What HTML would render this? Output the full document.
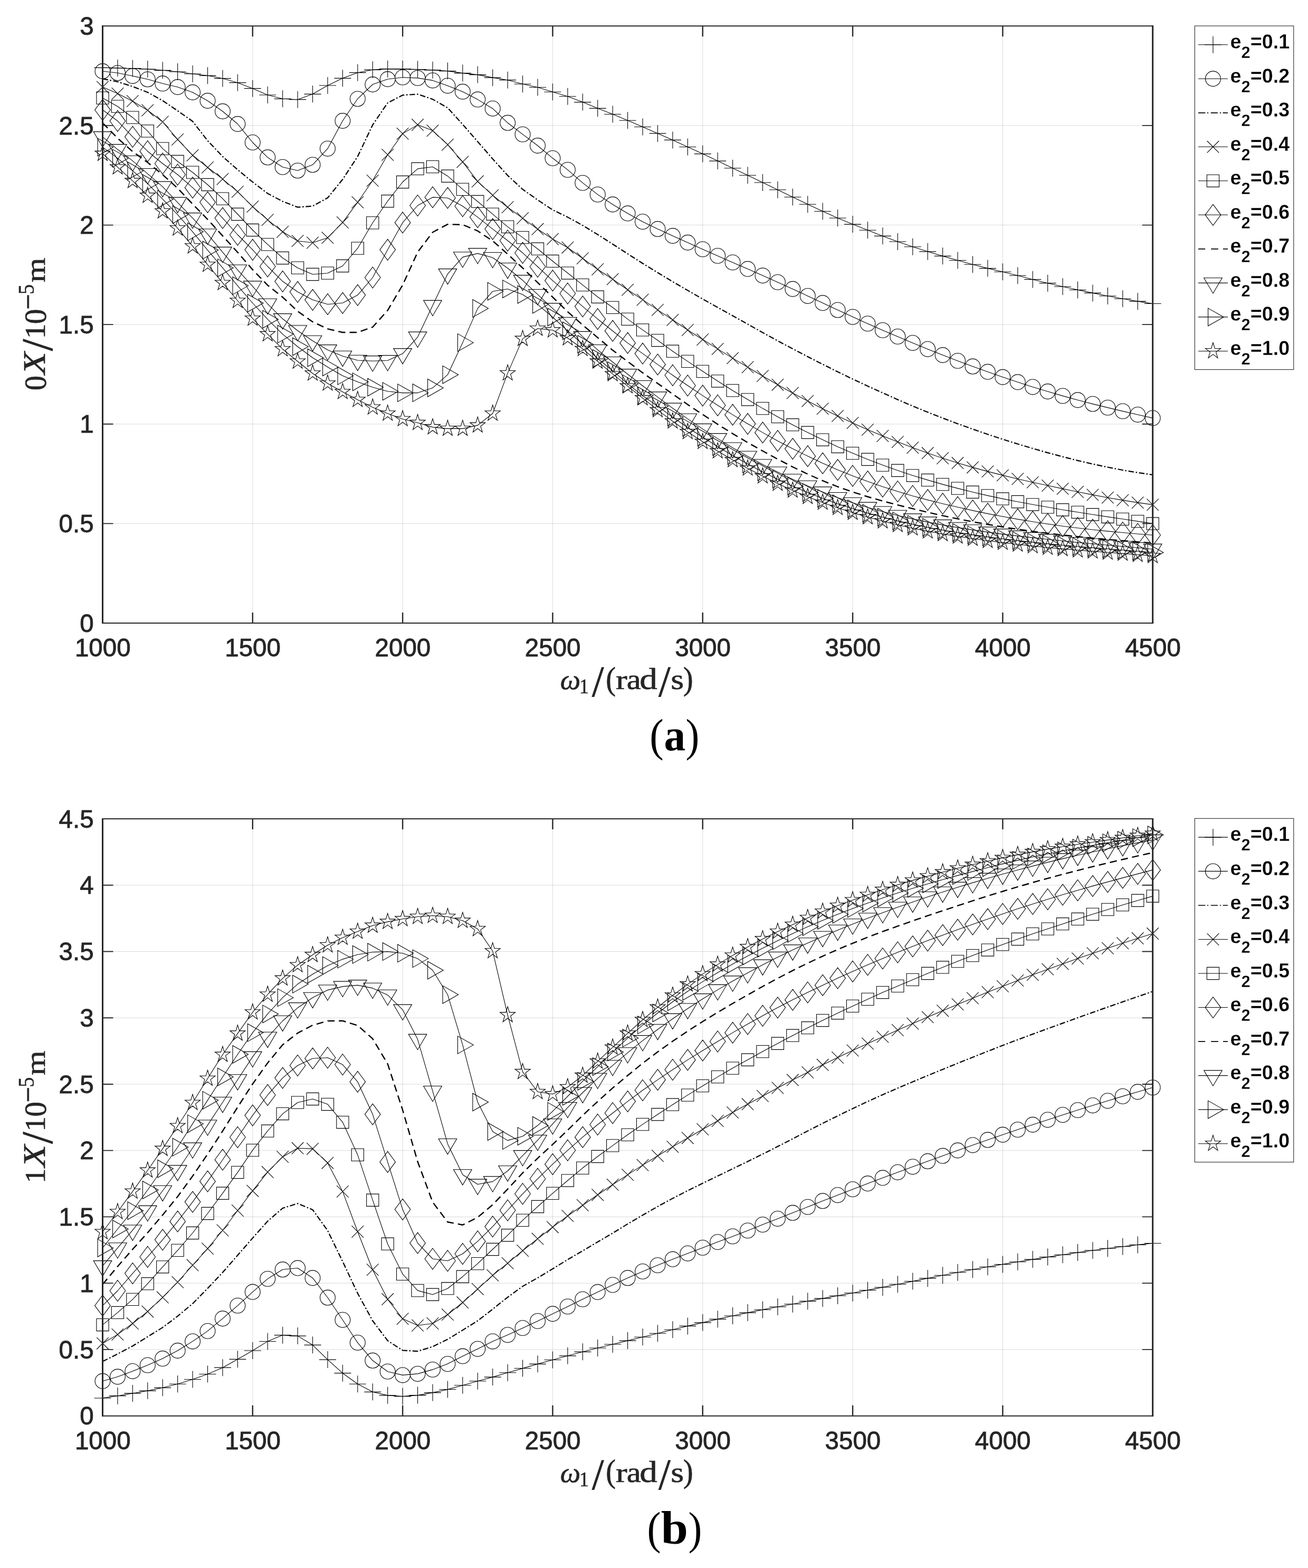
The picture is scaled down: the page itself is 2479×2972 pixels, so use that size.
<!DOCTYPE html>
<html lang="en"><head><meta charset="utf-8"><title>Figure</title>
<style>
html,body{margin:0;padding:0;background:#fff}
svg{display:block}
text{fill:#262626}
.tk text{font-family:"Liberation Sans",sans-serif;font-size:47.5px;stroke:#262626;stroke-width:.9px}
.lg{font-family:"Liberation Sans",sans-serif;font-weight:bold;font-size:39px;fill:#000;stroke:#fff;stroke-width:.3px}
.lsub{font-size:32px}
.gs,.gi,.gb{font-family:"Liberation Serif",serif;font-size:100px}
.gi{font-style:italic}
.gb{font-weight:bold}
.xl text,.yl text{fill:#262626;stroke:#262626;stroke-width:1.2px}
.cap text{fill:#000}
</style></head>
<body>
<svg xmlns="http://www.w3.org/2000/svg" width="2479" height="2972" viewBox="0 0 2479 2972">
<rect width="2479" height="2972" fill="#fff"/>
<g id="plot1">
<path d="M478.81 49.3V1181.0M763.13 49.3V1181.0M1047.44 49.3V1181.0M1331.76 49.3V1181.0M1616.07 49.3V1181.0M1900.39 49.3V1181.0" stroke="#262626" stroke-opacity=".17" stroke-width="1" fill="none"/>
<path d="M194.5 992.38H2184.7M194.5 803.77H2184.7M194.5 615.15H2184.7M194.5 426.53H2184.7M194.5 237.92H2184.7" stroke="#262626" stroke-opacity=".17" stroke-width="1" fill="none"/>
<path d="M194.5 128.3L222.9 129.0L251.4 129.7L279.8 131.0L308.2 133.3L336.7 136.0L365.1 140.0L393.5 143.3L422.0 148.7L450.4 156.7L478.8 167.7L507.2 180.0L535.7 187.3L564.1 188.7L592.5 178.3L621.0 162.0L649.4 148.3L677.8 137.7L706.3 132.3L734.7 130.7L763.1 130.9L791.6 131.6L820.0 132.8L848.4 134.6L876.9 138.6L905.3 141.6L933.7 147.1L962.1 151.7L990.6 159.2L1019.0 165.5L1047.4 174.3L1075.9 182.8L1104.3 193.6L1132.7 205.3L1161.2 216.4L1189.6 228.2L1218.0 240.5L1246.5 252.9L1274.9 265.4L1303.3 278.4L1331.8 291.6L1360.2 305.1L1388.6 318.7L1417.1 332.3L1445.5 346.0L1473.9 359.8L1502.3 373.5L1530.8 387.2L1559.2 400.5L1587.6 413.3L1616.1 425.1L1644.5 436.2L1672.9 447.4L1701.4 457.9L1729.8 467.7L1758.2 476.8L1786.7 485.4L1815.1 493.5L1843.5 501.3L1872.0 508.6L1900.4 515.3L1928.8 522.3L1957.2 529.7L1985.7 536.7L2014.1 543.2L2042.5 549.4L2071.0 555.4L2099.4 561.0L2127.8 566.3L2156.3 571.1L2184.7 575.6" stroke="#000" stroke-width="1.1" fill="none" stroke-linejoin="round"/>
<path d="M178.5 128.33H210.5M194.5 112.33000000000001V144.33M206.93 129.0H238.93M222.93 113.0V145.0M235.36 129.67H267.36M251.36 113.66999999999999V145.67M263.79 131.0H295.79M279.79 115.0V147.0M292.23 133.33H324.23M308.23 117.33000000000001V149.33M320.66 136.0H352.66M336.66 120.0V152.0M349.09 140.0H381.09M365.09 124.0V156.0M377.52 143.33H409.52M393.52 127.33000000000001V159.33M405.95 148.67H437.95M421.95 132.67V164.67M434.38 156.67H466.38M450.38 140.67V172.67M462.81 167.67H494.81M478.81 151.67V183.67M491.25 180.0H523.25M507.25 164.0V196.0M519.68 187.33H551.68M535.68 171.33V203.33M548.11 188.67H580.11M564.11 172.67V204.67M576.54 178.33H608.54M592.54 162.33V194.33M604.97 162.0H636.97M620.97 146.0V178.0M633.4 148.33H665.4M649.4 132.33V164.33M661.83 137.67H693.83M677.83 121.66999999999999V153.67M690.27 132.33H722.27M706.27 116.33000000000001V148.33M718.7 130.67H750.7M734.7 114.66999999999999V146.67M747.13 130.87H779.13M763.13 114.87V146.87M775.56 131.58H807.56M791.56 115.58000000000001V147.58M803.99 132.83H835.99M819.99 116.83000000000001V148.83M832.42 134.59H864.42M848.42 118.59V150.59M860.85 138.61H892.85M876.85 122.61000000000001V154.61M889.29 141.62H921.29M905.29 125.62V157.62M917.72 147.15H949.72M933.72 131.15V163.15M946.15 151.67H978.15M962.15 135.67V167.67M974.58 159.2H1006.58M990.58 143.2V175.2M1003.01 165.48H1035.01M1019.01 149.48V181.48M1031.44 174.27H1063.44M1047.44 158.27V190.27M1059.87 182.8H1091.87M1075.87 166.8V198.8M1088.31 193.59H1120.31M1104.31 177.59V209.59M1116.74 205.33H1148.74M1132.74 189.33V221.33M1145.17 216.43H1177.17M1161.17 200.43V232.43M1173.6 228.2H1205.6M1189.6 212.2V244.2M1202.03 240.49H1234.03M1218.03 224.49V256.49M1230.46 252.9H1262.46M1246.46 236.9V268.9M1258.89 265.38H1290.89M1274.89 249.38V281.38M1287.33 278.43H1319.33M1303.33 262.43V294.43M1315.76 291.59H1347.76M1331.76 275.59V307.59M1344.19 305.12H1376.19M1360.19 289.12V321.12M1372.62 318.73H1404.62M1388.62 302.73V334.73M1401.05 332.27H1433.05M1417.05 316.27V348.27M1429.48 345.97H1461.48M1445.48 329.97V361.97M1457.91 359.77H1489.91M1473.91 343.77V375.77M1486.35 373.53H1518.35M1502.35 357.53V389.53M1514.78 387.23H1546.78M1530.78 371.23V403.23M1543.21 400.52H1575.21M1559.21 384.52V416.52M1571.64 413.32H1603.64M1587.64 397.32V429.32M1600.07 425.08H1632.07M1616.07 409.08V441.08M1628.5 436.21H1660.5M1644.5 420.21V452.21M1656.93 447.36H1688.93M1672.93 431.36V463.36M1685.37 457.93H1717.37M1701.37 441.93V473.93M1713.8 467.75H1745.8M1729.8 451.75V483.75M1742.23 476.83H1774.23M1758.23 460.83V492.83M1770.66 485.36H1802.66M1786.66 469.36V501.36M1799.09 493.54H1831.09M1815.09 477.54V509.54M1827.52 501.32H1859.52M1843.52 485.32V517.3199999999999M1855.95 508.59H1887.95M1871.95 492.59V524.5899999999999M1884.39 515.31H1916.39M1900.39 499.30999999999995V531.31M1912.82 522.27H1944.82M1928.82 506.27V538.27M1941.25 529.67H1973.25M1957.25 513.67V545.67M1969.68 536.66H2001.68M1985.68 520.66V552.66M1998.11 543.18H2030.11M2014.11 527.18V559.18M2026.54 549.44H2058.54M2042.54 533.44V565.44M2054.97 555.4H2086.97M2070.97 539.4V571.4M2083.41 561.02H2115.41M2099.41 545.02V577.02M2111.84 566.27H2143.84M2127.84 550.27V582.27M2140.27 571.13H2172.27M2156.27 555.13V587.13M2168.7 575.56H2200.7M2184.7 559.56V591.56" stroke="#000" stroke-width="1.1" fill="none" stroke-linejoin="miter"/>
<path d="M194.5 135.0L222.9 138.3L251.4 144.0L279.8 150.3L308.2 158.3L336.7 165.0L365.1 175.0L393.5 191.0L422.0 211.0L450.4 235.0L478.8 270.0L507.2 298.3L535.7 316.7L564.1 323.3L592.5 312.3L621.0 281.7L649.4 229.0L677.8 187.3L706.3 160.0L734.7 150.0L763.1 146.7L791.6 147.9L820.0 152.4L848.4 162.5L876.9 173.8L905.3 188.6L933.7 205.7L962.1 232.8L990.6 254.6L1019.0 276.0L1047.4 299.8L1075.9 321.9L1104.3 346.6L1132.7 368.6L1161.2 387.5L1189.6 404.5L1218.0 420.2L1246.5 434.1L1274.9 447.0L1303.3 459.7L1331.8 472.4L1360.2 484.9L1388.6 497.4L1417.1 509.8L1445.5 522.2L1473.9 534.9L1502.3 547.7L1530.8 560.9L1559.2 574.3L1587.6 587.6L1616.1 600.6L1644.5 613.4L1672.9 625.9L1701.4 637.9L1729.8 649.9L1758.2 661.7L1786.7 673.0L1815.1 683.9L1843.5 694.5L1872.0 704.8L1900.4 714.7L1928.8 724.3L1957.2 733.5L1985.7 742.0L2014.1 750.4L2042.5 758.2L2071.0 765.6L2099.4 772.6L2127.8 779.4L2156.3 786.0L2184.7 792.4" stroke="#000" stroke-width="1.1" fill="none" stroke-linejoin="round"/>
<path d="M180.1 135.0a14.4 14.4 0 1 0 28.8 0a14.4 14.4 0 1 0 -28.8 0ZM208.53 138.33a14.4 14.4 0 1 0 28.8 0a14.4 14.4 0 1 0 -28.8 0ZM236.96 144.0a14.4 14.4 0 1 0 28.8 0a14.4 14.4 0 1 0 -28.8 0ZM265.39000000000004 150.33a14.4 14.4 0 1 0 28.8 0a14.4 14.4 0 1 0 -28.8 0ZM293.83000000000004 158.33a14.4 14.4 0 1 0 28.8 0a14.4 14.4 0 1 0 -28.8 0ZM322.26000000000005 165.0a14.4 14.4 0 1 0 28.8 0a14.4 14.4 0 1 0 -28.8 0ZM350.69 175.0a14.4 14.4 0 1 0 28.8 0a14.4 14.4 0 1 0 -28.8 0ZM379.12 191.0a14.4 14.4 0 1 0 28.8 0a14.4 14.4 0 1 0 -28.8 0ZM407.55 211.0a14.4 14.4 0 1 0 28.8 0a14.4 14.4 0 1 0 -28.8 0ZM435.98 235.0a14.4 14.4 0 1 0 28.8 0a14.4 14.4 0 1 0 -28.8 0ZM464.41 270.0a14.4 14.4 0 1 0 28.8 0a14.4 14.4 0 1 0 -28.8 0ZM492.85 298.33a14.4 14.4 0 1 0 28.8 0a14.4 14.4 0 1 0 -28.8 0ZM521.28 316.67a14.4 14.4 0 1 0 28.8 0a14.4 14.4 0 1 0 -28.8 0ZM549.71 323.33a14.4 14.4 0 1 0 28.8 0a14.4 14.4 0 1 0 -28.8 0ZM578.14 312.33a14.4 14.4 0 1 0 28.8 0a14.4 14.4 0 1 0 -28.8 0ZM606.57 281.67a14.4 14.4 0 1 0 28.8 0a14.4 14.4 0 1 0 -28.8 0ZM635.0 229.0a14.4 14.4 0 1 0 28.8 0a14.4 14.4 0 1 0 -28.8 0ZM663.4300000000001 187.33a14.4 14.4 0 1 0 28.8 0a14.4 14.4 0 1 0 -28.8 0ZM691.87 160.0a14.4 14.4 0 1 0 28.8 0a14.4 14.4 0 1 0 -28.8 0ZM720.3000000000001 150.0a14.4 14.4 0 1 0 28.8 0a14.4 14.4 0 1 0 -28.8 0ZM748.73 146.66a14.4 14.4 0 1 0 28.8 0a14.4 14.4 0 1 0 -28.8 0ZM777.16 147.9a14.4 14.4 0 1 0 28.8 0a14.4 14.4 0 1 0 -28.8 0ZM805.59 152.42a14.4 14.4 0 1 0 28.8 0a14.4 14.4 0 1 0 -28.8 0ZM834.02 162.47a14.4 14.4 0 1 0 28.8 0a14.4 14.4 0 1 0 -28.8 0ZM862.45 173.77a14.4 14.4 0 1 0 28.8 0a14.4 14.4 0 1 0 -28.8 0ZM890.89 188.58a14.4 14.4 0 1 0 28.8 0a14.4 14.4 0 1 0 -28.8 0ZM919.32 205.66a14.4 14.4 0 1 0 28.8 0a14.4 14.4 0 1 0 -28.8 0ZM947.75 232.79a14.4 14.4 0 1 0 28.8 0a14.4 14.4 0 1 0 -28.8 0ZM976.1800000000001 254.63a14.4 14.4 0 1 0 28.8 0a14.4 14.4 0 1 0 -28.8 0ZM1004.61 275.98a14.4 14.4 0 1 0 28.8 0a14.4 14.4 0 1 0 -28.8 0ZM1033.04 299.84a14.4 14.4 0 1 0 28.8 0a14.4 14.4 0 1 0 -28.8 0ZM1061.4699999999998 321.88a14.4 14.4 0 1 0 28.8 0a14.4 14.4 0 1 0 -28.8 0ZM1089.9099999999999 346.64a14.4 14.4 0 1 0 28.8 0a14.4 14.4 0 1 0 -28.8 0ZM1118.34 368.65a14.4 14.4 0 1 0 28.8 0a14.4 14.4 0 1 0 -28.8 0ZM1146.77 387.49a14.4 14.4 0 1 0 28.8 0a14.4 14.4 0 1 0 -28.8 0ZM1175.1999999999998 404.54a14.4 14.4 0 1 0 28.8 0a14.4 14.4 0 1 0 -28.8 0ZM1203.6299999999999 420.2a14.4 14.4 0 1 0 28.8 0a14.4 14.4 0 1 0 -28.8 0ZM1232.06 434.06a14.4 14.4 0 1 0 28.8 0a14.4 14.4 0 1 0 -28.8 0ZM1260.49 447.01a14.4 14.4 0 1 0 28.8 0a14.4 14.4 0 1 0 -28.8 0ZM1288.9299999999998 459.73a14.4 14.4 0 1 0 28.8 0a14.4 14.4 0 1 0 -28.8 0ZM1317.36 472.4a14.4 14.4 0 1 0 28.8 0a14.4 14.4 0 1 0 -28.8 0ZM1345.79 484.9a14.4 14.4 0 1 0 28.8 0a14.4 14.4 0 1 0 -28.8 0ZM1374.2199999999998 497.4a14.4 14.4 0 1 0 28.8 0a14.4 14.4 0 1 0 -28.8 0ZM1402.6499999999999 509.78a14.4 14.4 0 1 0 28.8 0a14.4 14.4 0 1 0 -28.8 0ZM1431.08 522.24a14.4 14.4 0 1 0 28.8 0a14.4 14.4 0 1 0 -28.8 0ZM1459.51 534.91a14.4 14.4 0 1 0 28.8 0a14.4 14.4 0 1 0 -28.8 0ZM1487.9499999999998 547.75a14.4 14.4 0 1 0 28.8 0a14.4 14.4 0 1 0 -28.8 0ZM1516.3799999999999 560.94a14.4 14.4 0 1 0 28.8 0a14.4 14.4 0 1 0 -28.8 0ZM1544.81 574.28a14.4 14.4 0 1 0 28.8 0a14.4 14.4 0 1 0 -28.8 0ZM1573.24 587.58a14.4 14.4 0 1 0 28.8 0a14.4 14.4 0 1 0 -28.8 0ZM1601.6699999999998 600.6a14.4 14.4 0 1 0 28.8 0a14.4 14.4 0 1 0 -28.8 0ZM1630.1 613.37a14.4 14.4 0 1 0 28.8 0a14.4 14.4 0 1 0 -28.8 0ZM1658.53 625.89a14.4 14.4 0 1 0 28.8 0a14.4 14.4 0 1 0 -28.8 0ZM1686.9699999999998 637.92a14.4 14.4 0 1 0 28.8 0a14.4 14.4 0 1 0 -28.8 0ZM1715.3999999999999 649.94a14.4 14.4 0 1 0 28.8 0a14.4 14.4 0 1 0 -28.8 0ZM1743.83 661.68a14.4 14.4 0 1 0 28.8 0a14.4 14.4 0 1 0 -28.8 0ZM1772.26 672.99a14.4 14.4 0 1 0 28.8 0a14.4 14.4 0 1 0 -28.8 0ZM1800.6899999999998 683.9a14.4 14.4 0 1 0 28.8 0a14.4 14.4 0 1 0 -28.8 0ZM1829.12 694.53a14.4 14.4 0 1 0 28.8 0a14.4 14.4 0 1 0 -28.8 0ZM1857.55 704.78a14.4 14.4 0 1 0 28.8 0a14.4 14.4 0 1 0 -28.8 0ZM1885.99 714.74a14.4 14.4 0 1 0 28.8 0a14.4 14.4 0 1 0 -28.8 0ZM1914.4199999999998 724.28a14.4 14.4 0 1 0 28.8 0a14.4 14.4 0 1 0 -28.8 0ZM1942.85 733.45a14.4 14.4 0 1 0 28.8 0a14.4 14.4 0 1 0 -28.8 0ZM1971.28 742.01a14.4 14.4 0 1 0 28.8 0a14.4 14.4 0 1 0 -28.8 0ZM1999.7099999999998 750.38a14.4 14.4 0 1 0 28.8 0a14.4 14.4 0 1 0 -28.8 0ZM2028.1399999999999 758.24a14.4 14.4 0 1 0 28.8 0a14.4 14.4 0 1 0 -28.8 0ZM2056.5699999999997 765.58a14.4 14.4 0 1 0 28.8 0a14.4 14.4 0 1 0 -28.8 0ZM2085.0099999999998 772.59a14.4 14.4 0 1 0 28.8 0a14.4 14.4 0 1 0 -28.8 0ZM2113.44 779.36a14.4 14.4 0 1 0 28.8 0a14.4 14.4 0 1 0 -28.8 0ZM2141.87 785.95a14.4 14.4 0 1 0 28.8 0a14.4 14.4 0 1 0 -28.8 0ZM2170.2999999999997 792.45a14.4 14.4 0 1 0 28.8 0a14.4 14.4 0 1 0 -28.8 0Z" stroke="#000" stroke-width="1.1" fill="none" stroke-linejoin="miter"/>
<path d="M194.5 149.3L222.9 155.0L251.4 164.0L279.8 175.0L308.2 190.7L336.7 210.0L365.1 230.0L393.5 266.7L422.0 296.7L450.4 321.7L478.8 345.0L507.2 366.7L535.7 381.7L564.1 392.7L592.5 390.7L621.0 375.0L649.4 340.0L677.8 296.7L706.3 236.7L734.7 195.0L763.1 180.3L791.6 178.5L820.0 188.1L848.4 204.4L876.9 235.8L905.3 268.4L933.7 301.1L962.1 332.5L990.6 358.9L1019.0 378.9L1047.4 397.8L1075.9 411.6L1104.3 427.2L1132.7 444.5L1161.2 462.7L1189.6 481.1L1218.0 499.2L1246.5 516.8L1274.9 533.9L1303.3 550.4L1331.8 566.8L1360.2 582.7L1388.6 598.5L1417.1 614.4L1445.5 630.4L1473.9 646.0L1502.3 661.1L1530.8 676.0L1559.2 690.5L1587.6 704.7L1616.1 718.5L1644.5 731.8L1672.9 744.7L1701.4 757.4L1729.8 769.7L1758.2 781.3L1786.7 792.5L1815.1 803.2L1843.5 813.4L1872.0 823.2L1900.4 832.6L1928.8 841.5L1957.2 850.0L1985.7 858.1L2014.1 865.7L2042.5 872.9L2071.0 879.5L2099.4 885.5L2127.8 891.0L2156.3 895.8L2184.7 900.0" stroke="#000" stroke-width="2.2" stroke-dasharray="10.5 3.6 2.6 3.6" fill="none" stroke-linejoin="round"/>
<path d="M194.5 165.0L222.9 177.3L251.4 191.7L279.8 209.0L308.2 231.0L336.7 264.3L365.1 294.3L393.5 317.3L422.0 339.3L450.4 363.3L478.8 391.7L507.2 416.7L535.7 439.3L564.1 456.7L592.5 460.0L621.0 450.7L649.4 421.7L677.8 383.3L706.3 342.3L734.7 293.3L763.1 253.4L791.6 236.6L820.0 247.6L848.4 274.2L876.9 306.9L905.3 343.8L933.7 370.2L962.1 392.8L990.6 413.6L1019.0 434.3L1047.4 453.1L1075.9 469.2L1104.3 489.7L1132.7 510.5L1161.2 529.2L1189.6 549.3L1218.0 568.1L1246.5 587.4L1274.9 606.3L1303.3 625.5L1331.8 643.5L1360.2 661.4L1388.6 678.9L1417.1 696.0L1445.5 712.7L1473.9 729.2L1502.3 744.9L1530.8 760.1L1559.2 774.7L1587.6 788.4L1616.1 801.7L1644.5 814.4L1672.9 826.3L1701.4 837.6L1729.8 848.5L1758.2 858.8L1786.7 868.5L1815.1 877.5L1843.5 885.9L1872.0 893.6L1900.4 900.9L1928.8 907.8L1957.2 914.2L1985.7 920.3L2014.1 926.4L2042.5 932.2L2071.0 937.9L2099.4 943.2L2127.8 948.1L2156.3 952.6L2184.7 956.6" stroke="#000" stroke-width="1.1" fill="none" stroke-linejoin="round"/>
<path d="M183.2 153.7L205.8 176.3M183.2 176.3L205.8 153.7M211.63 166.03L234.23000000000002 188.63000000000002M211.63 188.63000000000002L234.23000000000002 166.03M240.06 180.36999999999998L262.66 202.97M240.06 202.97L262.66 180.36999999999998M268.49 197.7L291.09000000000003 220.3M268.49 220.3L291.09000000000003 197.7M296.93 219.7L319.53000000000003 242.3M296.93 242.3L319.53000000000003 219.7M325.36 253.02999999999997L347.96000000000004 275.63M325.36 275.63L347.96000000000004 253.02999999999997M353.78999999999996 283.03L376.39 305.63M353.78999999999996 305.63L376.39 283.03M382.21999999999997 306.03L404.82 328.63M382.21999999999997 328.63L404.82 306.03M410.65 328.03L433.25 350.63M410.65 350.63L433.25 328.03M439.08 352.03L461.68 374.63M439.08 374.63L461.68 352.03M467.51 380.37L490.11 402.97M467.51 402.97L490.11 380.37M495.95 405.37L518.55 427.97M495.95 427.97L518.55 405.37M524.38 428.03L546.9799999999999 450.63M524.38 450.63L546.9799999999999 428.03M552.8100000000001 445.37L575.41 467.97M552.8100000000001 467.97L575.41 445.37M581.24 448.7L603.8399999999999 471.3M581.24 471.3L603.8399999999999 448.7M609.6700000000001 439.37L632.27 461.97M609.6700000000001 461.97L632.27 439.37M638.1 410.37L660.6999999999999 432.97M638.1 432.97L660.6999999999999 410.37M666.5300000000001 372.03L689.13 394.63M666.5300000000001 394.63L689.13 372.03M694.97 331.03L717.5699999999999 353.63M694.97 353.63L717.5699999999999 331.03M723.4000000000001 282.03L746.0 304.63M723.4000000000001 304.63L746.0 282.03M751.83 242.06L774.43 264.66M751.83 264.66L774.43 242.06M780.26 225.25L802.8599999999999 247.85000000000002M780.26 247.85000000000002L802.8599999999999 225.25M808.69 236.29999999999998L831.29 258.9M808.69 258.9L831.29 236.29999999999998M837.12 262.92L859.7199999999999 285.52000000000004M837.12 285.52000000000004L859.7199999999999 262.92M865.5500000000001 295.57L888.15 318.17M865.5500000000001 318.17L888.15 295.57M893.99 332.49L916.5899999999999 355.09000000000003M893.99 355.09000000000003L916.5899999999999 332.49M922.4200000000001 358.86L945.02 381.46000000000004M922.4200000000001 381.46000000000004L945.02 358.86M950.85 381.46L973.4499999999999 404.06M950.85 404.06L973.4499999999999 381.46M979.2800000000001 402.28L1001.88 424.88M979.2800000000001 424.88L1001.88 402.28M1007.71 423.0L1030.31 445.6M1007.71 445.6L1030.31 423.0M1036.14 441.84L1058.74 464.44M1036.14 464.44L1058.74 441.84M1064.57 457.90999999999997L1087.1699999999998 480.51M1064.57 480.51L1087.1699999999998 457.90999999999997M1093.01 478.38L1115.61 500.98M1093.01 500.98L1115.61 478.38M1121.44 499.2L1144.04 521.8M1121.44 521.8L1144.04 499.2M1149.8700000000001 517.87L1172.47 540.4699999999999M1149.8700000000001 540.4699999999999L1172.47 517.87M1178.3 537.96L1200.8999999999999 560.56M1178.3 560.56L1200.8999999999999 537.96M1206.73 556.83L1229.33 579.43M1206.73 579.43L1229.33 556.83M1235.16 576.0600000000001L1257.76 598.66M1235.16 598.66L1257.76 576.0600000000001M1263.5900000000001 595.0400000000001L1286.19 617.64M1263.5900000000001 617.64L1286.19 595.0400000000001M1292.03 614.1700000000001L1314.6299999999999 636.77M1292.03 636.77L1314.6299999999999 614.1700000000001M1320.46 632.1700000000001L1343.06 654.77M1320.46 654.77L1343.06 632.1700000000001M1348.89 650.1L1371.49 672.6999999999999M1348.89 672.6999999999999L1371.49 650.1M1377.32 667.61L1399.9199999999998 690.2099999999999M1377.32 690.2099999999999L1399.9199999999998 667.61M1405.75 684.7L1428.35 707.3M1405.75 707.3L1428.35 684.7M1434.18 701.38L1456.78 723.9799999999999M1434.18 723.9799999999999L1456.78 701.38M1462.6100000000001 717.9100000000001L1485.21 740.51M1462.6100000000001 740.51L1485.21 717.9100000000001M1491.05 733.62L1513.6499999999999 756.2199999999999M1491.05 756.2199999999999L1513.6499999999999 733.62M1519.48 748.7800000000001L1542.08 771.38M1519.48 771.38L1542.08 748.7800000000001M1547.91 763.38L1570.51 785.9799999999999M1547.91 785.9799999999999L1570.51 763.38M1576.3400000000001 777.13L1598.94 799.7299999999999M1576.3400000000001 799.7299999999999L1598.94 777.13M1604.77 790.38L1627.37 812.9799999999999M1604.77 812.9799999999999L1627.37 790.38M1633.2 803.0500000000001L1655.8 825.65M1633.2 825.65L1655.8 803.0500000000001M1661.63 814.97L1684.23 837.5699999999999M1661.63 837.5699999999999L1684.23 814.97M1690.07 826.32L1712.6699999999998 848.92M1690.07 848.92L1712.6699999999998 826.32M1718.5 837.2L1741.1 859.8M1718.5 859.8L1741.1 837.2M1746.93 847.5L1769.53 870.0999999999999M1746.93 870.0999999999999L1769.53 847.5M1775.3600000000001 857.21L1797.96 879.81M1775.3600000000001 879.81L1797.96 857.21M1803.79 866.24L1826.3899999999999 888.8399999999999M1803.79 888.8399999999999L1826.3899999999999 866.24M1832.22 874.6500000000001L1854.82 897.25M1832.22 897.25L1854.82 874.6500000000001M1860.65 882.34L1883.25 904.9399999999999M1860.65 904.9399999999999L1883.25 882.34M1889.0900000000001 889.62L1911.69 912.2199999999999M1889.0900000000001 912.2199999999999L1911.69 889.62M1917.52 896.45L1940.12 919.05M1917.52 919.05L1940.12 896.45M1945.95 902.88L1968.55 925.4799999999999M1945.95 925.4799999999999L1968.55 902.88M1974.38 909.0400000000001L1996.98 931.64M1974.38 931.64L1996.98 909.0400000000001M2002.81 915.1L2025.4099999999999 937.6999999999999M2002.81 937.6999999999999L2025.4099999999999 915.1M2031.24 920.9200000000001L2053.84 943.52M2031.24 943.52L2053.84 920.9200000000001M2059.6699999999996 926.5500000000001L2082.27 949.15M2059.6699999999996 949.15L2082.27 926.5500000000001M2088.1099999999997 931.86L2110.71 954.4599999999999M2088.1099999999997 954.4599999999999L2110.71 931.86M2116.54 936.8000000000001L2139.1400000000003 959.4M2116.54 959.4L2139.1400000000003 936.8000000000001M2144.97 941.3000000000001L2167.57 963.9M2144.97 963.9L2167.57 941.3000000000001M2173.3999999999996 945.3100000000001L2196.0 967.91M2173.3999999999996 967.91L2196.0 945.3100000000001" stroke="#000" stroke-width="1.1" fill="none" stroke-linejoin="miter"/>
<path d="M194.5 185.7L222.9 201.7L251.4 222.7L279.8 248.3L308.2 281.7L336.7 306.0L365.1 326.7L393.5 350.0L422.0 376.7L450.4 406.0L478.8 436.0L507.2 463.3L535.7 489.0L564.1 507.7L592.5 520.0L621.0 517.7L649.4 504.0L677.8 470.7L706.3 422.3L734.7 381.2L763.1 345.0L791.6 319.9L820.0 316.2L848.4 333.7L876.9 358.9L905.3 382.0L933.7 405.8L962.1 429.9L990.6 450.1L1019.0 471.7L1047.4 495.0L1075.9 517.5L1104.3 540.1L1132.7 562.7L1161.2 582.8L1189.6 604.9L1218.0 625.4L1246.5 645.0L1274.9 665.7L1303.3 684.9L1331.8 703.8L1360.2 722.3L1388.6 740.2L1417.1 757.3L1445.5 774.1L1473.9 789.9L1502.3 805.2L1530.8 819.8L1559.2 833.6L1587.6 846.8L1616.1 859.1L1644.5 870.7L1672.9 881.6L1701.4 891.7L1729.8 901.3L1758.2 909.9L1786.7 918.1L1815.1 925.6L1843.5 932.8L1872.0 939.4L1900.4 945.4L1928.8 951.0L1957.2 956.3L1985.7 961.3L2014.1 966.2L2042.5 970.8L2071.0 975.2L2099.4 979.6L2127.8 983.8L2156.3 988.1L2184.7 992.4" stroke="#000" stroke-width="1.1" fill="none" stroke-linejoin="round"/>
<path d="M182.9 174.07H206.1V197.26999999999998H182.9ZM211.33 190.07H234.53V213.26999999999998H211.33ZM239.76000000000002 211.07H262.96000000000004V234.26999999999998H239.76000000000002ZM268.19 236.73000000000002H291.39000000000004V259.93H268.19ZM296.63 270.07H319.83000000000004V293.27000000000004H296.63ZM325.06 294.4H348.26000000000005V317.6H325.06ZM353.48999999999995 315.07H376.69V338.27000000000004H353.48999999999995ZM381.91999999999996 338.4H405.12V361.6H381.91999999999996ZM410.34999999999997 365.07H433.55V388.27000000000004H410.34999999999997ZM438.78 394.4H461.98V417.6H438.78ZM467.21 424.4H490.41V447.6H467.21ZM495.65 451.72999999999996H518.85V474.93H495.65ZM524.0799999999999 477.4H547.28V500.6H524.0799999999999ZM552.51 496.07H575.71V519.27H552.51ZM580.9399999999999 508.4H604.14V531.6H580.9399999999999ZM609.37 506.06999999999994H632.57V529.27H609.37ZM637.8 492.4H661.0V515.6H637.8ZM666.23 459.07H689.4300000000001V482.27000000000004H666.23ZM694.67 410.72999999999996H717.87V433.93H694.67ZM723.1 369.63H746.3000000000001V392.83000000000004H723.1ZM751.53 333.41999999999996H774.73V356.62H751.53ZM779.9599999999999 308.33H803.16V331.53000000000003H779.9599999999999ZM808.39 304.56H831.59V327.76000000000005H808.39ZM836.8199999999999 322.14H860.02V345.34000000000003H836.8199999999999ZM865.25 347.26H888.45V370.46000000000004H865.25ZM893.6899999999999 370.35999999999996H916.89V393.56H893.6899999999999ZM922.12 394.21999999999997H945.32V417.42H922.12ZM950.55 418.31H973.75V441.51000000000005H950.55ZM978.98 438.53H1002.1800000000001V461.73H978.98ZM1007.41 460.12H1030.61V483.32000000000005H1007.41ZM1035.8400000000001 483.34999999999997H1059.04V506.55H1035.8400000000001ZM1064.27 505.92999999999995H1087.4699999999998V529.13H1064.27ZM1092.71 528.54H1115.9099999999999V551.74H1092.71ZM1121.14 551.14H1144.34V574.34H1121.14ZM1149.5700000000002 571.25H1172.77V594.45H1149.5700000000002ZM1178.0 593.27H1201.1999999999998V616.47H1178.0ZM1206.43 613.8H1229.6299999999999V637.0H1206.43ZM1234.8600000000001 633.4399999999999H1258.06V656.64H1234.8600000000001ZM1263.2900000000002 654.1H1286.49V677.3000000000001H1263.2900000000002ZM1291.73 673.26H1314.9299999999998V696.46H1291.73ZM1320.16 692.25H1343.36V715.45H1320.16ZM1348.5900000000001 710.7099999999999H1371.79V733.91H1348.5900000000001ZM1377.02 728.5699999999999H1400.2199999999998V751.77H1377.02ZM1405.45 745.72H1428.6499999999999V768.9200000000001H1405.45ZM1433.88 762.52H1457.08V785.72H1433.88ZM1462.3100000000002 778.3199999999999H1485.51V801.52H1462.3100000000002ZM1490.75 793.62H1513.9499999999998V816.82H1490.75ZM1519.18 808.17H1542.3799999999999V831.37H1519.18ZM1547.6100000000001 821.97H1570.81V845.1700000000001H1547.6100000000001ZM1576.0400000000002 835.1899999999999H1599.24V858.39H1576.0400000000002ZM1604.47 847.55H1627.6699999999998V870.75H1604.47ZM1632.9 859.13H1656.1V882.33H1632.9ZM1661.3300000000002 869.98H1684.53V893.1800000000001H1661.3300000000002ZM1689.77 880.14H1712.9699999999998V903.34H1689.77ZM1718.2 889.6899999999999H1741.3999999999999V912.89H1718.2ZM1746.63 898.3299999999999H1769.83V921.53H1746.63ZM1775.0600000000002 906.49H1798.26V929.69H1775.0600000000002ZM1803.49 914.04H1826.6899999999998V937.24H1803.49ZM1831.92 921.15H1855.12V944.35H1831.92ZM1860.3500000000001 927.77H1883.55V950.97H1860.3500000000001ZM1888.7900000000002 933.84H1911.99V957.0400000000001H1888.7900000000002ZM1917.22 939.39H1940.4199999999998V962.59H1917.22ZM1945.65 944.72H1968.85V967.9200000000001H1945.65ZM1974.0800000000002 949.74H1997.28V972.94H1974.0800000000002ZM2002.51 954.63H2025.7099999999998V977.83H2002.51ZM2030.94 959.2099999999999H2054.14V982.41H2030.94ZM2059.37 963.64H2082.5699999999997V986.84H2059.37ZM2087.81 967.97H2111.0099999999998V991.1700000000001H2087.81ZM2116.2400000000002 972.25H2139.44V995.45H2116.2400000000002ZM2144.67 976.52H2167.87V999.72H2144.67ZM2173.1 980.84H2196.2999999999997V1004.0400000000001H2173.1Z" stroke="#000" stroke-width="1.1" fill="none" stroke-linejoin="miter"/>
<path d="M194.5 208.3L222.9 229.3L251.4 259.3L279.8 286.7L308.2 310.0L336.7 331.0L365.1 355.7L393.5 383.3L422.0 413.3L450.4 445.0L478.8 473.3L507.2 505.0L535.7 533.3L564.1 553.3L592.5 568.3L621.0 576.7L649.4 574.3L677.8 559.3L706.3 526.0L734.7 473.3L763.1 421.9L791.6 389.5L820.0 373.9L848.4 375.2L876.9 390.8L905.3 411.6L933.7 434.1L962.1 456.0L990.6 479.3L1019.0 505.5L1047.4 531.8L1075.9 556.2L1104.3 580.8L1132.7 604.7L1161.2 627.2L1189.6 650.1L1218.0 670.1L1246.5 690.9L1274.9 711.2L1303.3 730.8L1331.8 749.9L1360.2 768.3L1388.6 786.1L1417.1 803.3L1445.5 819.9L1473.9 835.7L1502.3 850.6L1530.8 864.6L1559.2 878.1L1587.6 890.6L1616.1 902.0L1644.5 912.6L1672.9 922.4L1701.4 931.5L1729.8 940.0L1758.2 947.6L1786.7 954.7L1815.1 961.2L1843.5 967.6L1872.0 973.6L1900.4 979.0L1928.8 984.1L1957.2 988.8L1985.7 993.2L2014.1 997.2L2042.5 1000.8L2071.0 1004.0L2099.4 1006.9L2127.8 1009.5L2156.3 1012.0L2184.7 1014.3" stroke="#000" stroke-width="1.1" fill="none" stroke-linejoin="round"/>
<path d="M194.5 188.33L209.3 208.33L194.5 228.33L179.7 208.33ZM222.93 209.33L237.73000000000002 229.33L222.93 249.33L208.13 229.33ZM251.36 239.32999999999998L266.16 259.33L251.36 279.33L236.56 259.33ZM279.79 266.67L294.59000000000003 286.67L279.79 306.67L264.99 286.67ZM308.23 290.0L323.03000000000003 310.0L308.23 330.0L293.43 310.0ZM336.66 311.0L351.46000000000004 331.0L336.66 351.0L321.86 331.0ZM365.09 335.67L379.89 355.67L365.09 375.67L350.28999999999996 355.67ZM393.52 363.33L408.32 383.33L393.52 403.33L378.71999999999997 383.33ZM421.95 393.33L436.75 413.33L421.95 433.33L407.15 413.33ZM450.38 425.0L465.18 445.0L450.38 465.0L435.58 445.0ZM478.81 453.33L493.61 473.33L478.81 493.33L464.01 473.33ZM507.25 485.0L522.05 505.0L507.25 525.0L492.45 505.0ZM535.68 513.33L550.4799999999999 533.33L535.68 553.33L520.88 533.33ZM564.11 533.33L578.91 553.33L564.11 573.33L549.3100000000001 553.33ZM592.54 548.33L607.3399999999999 568.33L592.54 588.33L577.74 568.33ZM620.97 556.67L635.77 576.67L620.97 596.67L606.1700000000001 576.67ZM649.4 554.33L664.1999999999999 574.33L649.4 594.33L634.6 574.33ZM677.83 539.33L692.63 559.33L677.83 579.33L663.0300000000001 559.33ZM706.27 506.0L721.0699999999999 526.0L706.27 546.0L691.47 526.0ZM734.7 453.33L749.5 473.33L734.7 493.33L719.9000000000001 473.33ZM763.13 401.91L777.93 421.91L763.13 441.91L748.33 421.91ZM791.56 369.5L806.3599999999999 389.5L791.56 409.5L776.76 389.5ZM819.99 353.93L834.79 373.93L819.99 393.93L805.19 373.93ZM848.42 355.18L863.2199999999999 375.18L848.42 395.18L833.62 375.18ZM876.85 370.75L891.65 390.75L876.85 410.75L862.0500000000001 390.75ZM905.29 391.6L920.0899999999999 411.6L905.29 431.6L890.49 411.6ZM933.72 414.05L948.52 434.05L933.72 454.05L918.9200000000001 434.05ZM962.15 436.03L976.9499999999999 456.03L962.15 476.03L947.35 456.03ZM990.58 459.26L1005.38 479.26L990.58 499.26L975.7800000000001 479.26ZM1019.01 485.48L1033.81 505.48L1019.01 525.48L1004.21 505.48ZM1047.44 511.85L1062.24 531.85L1047.44 551.85L1032.64 531.85ZM1075.87 536.21L1090.6699999999998 556.21L1075.87 576.21L1061.07 556.21ZM1104.31 560.82L1119.11 580.82L1104.31 600.82L1089.51 580.82ZM1132.74 584.68L1147.54 604.68L1132.74 624.68L1117.94 604.68ZM1161.17 607.17L1175.97 627.17L1161.17 647.17L1146.3700000000001 627.17ZM1189.6 630.14L1204.3999999999999 650.14L1189.6 670.14L1174.8 650.14ZM1218.03 650.11L1232.83 670.11L1218.03 690.11L1203.23 670.11ZM1246.46 670.92L1261.26 690.92L1246.46 710.92L1231.66 690.92ZM1274.89 691.23L1289.69 711.23L1274.89 731.23L1260.0900000000001 711.23ZM1303.33 710.77L1318.1299999999999 730.77L1303.33 750.77L1288.53 730.77ZM1331.76 729.86L1346.56 749.86L1331.76 769.86L1316.96 749.86ZM1360.19 748.28L1374.99 768.28L1360.19 788.28L1345.39 768.28ZM1388.62 766.14L1403.4199999999998 786.14L1388.62 806.14L1373.82 786.14ZM1417.05 783.31L1431.85 803.31L1417.05 823.31L1402.25 803.31ZM1445.48 799.95L1460.28 819.95L1445.48 839.95L1430.68 819.95ZM1473.91 815.69L1488.71 835.69L1473.91 855.69L1459.1100000000001 835.69ZM1502.35 830.61L1517.1499999999999 850.61L1502.35 870.61L1487.55 850.61ZM1530.78 844.64L1545.58 864.64L1530.78 884.64L1515.98 864.64ZM1559.21 858.14L1574.01 878.14L1559.21 898.14L1544.41 878.14ZM1587.64 870.61L1602.44 890.61L1587.64 910.61L1572.8400000000001 890.61ZM1616.07 881.98L1630.87 901.98L1616.07 921.98L1601.27 901.98ZM1644.5 892.58L1659.3 912.58L1644.5 932.58L1629.7 912.58ZM1672.93 902.42L1687.73 922.42L1672.93 942.42L1658.13 922.42ZM1701.37 911.47L1716.1699999999998 931.47L1701.37 951.47L1686.57 931.47ZM1729.8 919.96L1744.6 939.96L1729.8 959.96L1715.0 939.96ZM1758.23 927.61L1773.03 947.61L1758.23 967.61L1743.43 947.61ZM1786.66 934.67L1801.46 954.67L1786.66 974.67L1771.8600000000001 954.67ZM1815.09 941.25L1829.8899999999999 961.25L1815.09 981.25L1800.29 961.25ZM1843.52 947.65L1858.32 967.65L1843.52 987.65L1828.72 967.65ZM1871.95 953.56L1886.75 973.56L1871.95 993.56L1857.15 973.56ZM1900.39 959.02L1915.19 979.02L1900.39 999.02L1885.5900000000001 979.02ZM1928.82 964.08L1943.62 984.08L1928.82 1004.08L1914.02 984.08ZM1957.25 968.85L1972.05 988.85L1957.25 1008.85L1942.45 988.85ZM1985.68 973.2L2000.48 993.2L1985.68 1013.2L1970.88 993.2ZM2014.11 977.19L2028.9099999999999 997.19L2014.11 1017.19L1999.31 997.19ZM2042.54 980.79L2057.34 1000.79L2042.54 1020.79L2027.74 1000.79ZM2070.97 983.99L2085.77 1003.99L2070.97 1023.99L2056.1699999999996 1003.99ZM2099.41 986.89L2114.21 1006.89L2099.41 1026.8899999999999L2084.6099999999997 1006.89ZM2127.84 989.54L2142.6400000000003 1009.54L2127.84 1029.54L2113.04 1009.54ZM2156.27 991.98L2171.07 1011.98L2156.27 1031.98L2141.47 1011.98ZM2184.7 994.27L2199.5 1014.27L2184.7 1034.27L2169.8999999999996 1014.27Z" stroke="#000" stroke-width="1.1" fill="none" stroke-linejoin="miter"/>
<path d="M194.5 233.0L222.9 261.9L251.4 287.3L279.8 307.9L308.2 330.9L336.7 356.8L365.1 386.8L393.5 415.8L422.0 447.1L450.4 478.3L478.8 511.2L507.2 540.6L535.7 563.3L564.1 590.0L592.5 610.0L621.0 623.3L649.4 630.0L677.8 630.0L706.3 620.0L734.7 588.3L763.1 540.3L791.6 477.9L820.0 440.2L848.4 425.1L876.9 425.9L905.3 437.7L933.7 456.5L962.1 481.6L990.6 508.0L1019.0 535.6L1047.4 563.2L1075.9 590.9L1104.3 616.0L1132.7 639.8L1161.2 663.8L1189.6 685.2L1218.0 706.6L1246.5 726.7L1274.9 746.9L1303.3 766.7L1331.8 785.7L1360.2 804.2L1388.6 821.9L1417.1 838.8L1445.5 854.8L1473.9 870.3L1502.3 885.0L1530.8 898.6L1559.2 911.2L1587.6 922.5L1616.1 932.5L1644.5 941.5L1672.9 949.7L1701.4 957.2L1729.8 964.2L1758.2 971.0L1786.7 977.4L1815.1 983.4L1843.5 988.9L1872.0 994.0L1900.4 998.7L1928.8 1003.1L1957.2 1007.1L1985.7 1010.8L2014.1 1014.1L2042.5 1017.2L2071.0 1020.0L2099.4 1022.6L2127.8 1024.9L2156.3 1027.1L2184.7 1029.1" stroke="#000" stroke-width="2.4" stroke-dasharray="13.5 8" fill="none" stroke-linejoin="round"/>
<path d="M194.5 259.3L222.9 283.3L251.4 304.9L279.8 329.3L308.2 353.8L336.7 383.8L365.1 413.4L393.5 443.7L422.0 478.1L450.4 511.6L478.8 542.6L507.2 576.0L535.7 604.3L564.1 626.7L592.5 646.0L621.0 663.3L649.4 675.0L677.8 683.0L706.3 684.3L734.7 683.3L763.1 670.3L791.6 638.8L820.0 579.1L848.4 519.3L876.9 487.4L905.3 480.4L933.7 488.2L962.1 508.2L990.6 531.3L1019.0 558.2L1047.4 584.6L1075.9 611.2L1104.3 638.1L1132.7 663.2L1161.2 686.3L1189.6 709.3L1218.0 731.2L1246.5 752.6L1274.9 773.8L1303.3 793.9L1331.8 813.1L1360.2 831.4L1388.6 848.7L1417.1 865.0L1445.5 880.4L1473.9 894.7L1502.3 908.4L1530.8 920.9L1559.2 932.5L1587.6 943.2L1616.1 953.0L1644.5 961.8L1672.9 969.7L1701.4 977.0L1729.8 983.6L1758.2 989.6L1786.7 995.1L1815.1 999.9L1843.5 1004.4L1872.0 1008.6L1900.4 1012.4L1928.8 1015.9L1957.2 1019.1L1985.7 1022.3L2014.1 1025.3L2042.5 1028.2L2071.0 1030.7L2099.4 1033.2L2127.8 1035.7L2156.3 1038.2L2184.7 1040.8" stroke="#000" stroke-width="1.1" fill="none" stroke-linejoin="round"/>
<path d="M177.2 249.63H211.8L194.5 278.93ZM205.63 273.6H240.23000000000002L222.93 302.90000000000003ZM234.06 295.18H268.66L251.36 324.48ZM262.49 319.55H297.09000000000003L279.79 348.85ZM290.93 344.12H325.53000000000003L308.23 373.42ZM319.36 374.09000000000003H353.96000000000004L336.66 403.39000000000004ZM347.78999999999996 403.66H382.39L365.09 432.96000000000004ZM376.21999999999997 434.02000000000004H410.82L393.52 463.32000000000005ZM404.65 468.38H439.25L421.95 497.68ZM433.08 501.94H467.68L450.38 531.24ZM461.51 532.91H496.11L478.81 562.21ZM489.95 566.3H524.55L507.25 595.6ZM518.38 594.63H552.9799999999999L535.68 623.9300000000001ZM546.8100000000001 616.9699999999999H581.41L564.11 646.27ZM575.24 636.3H609.8399999999999L592.54 665.6ZM603.6700000000001 653.63H638.27L620.97 682.9300000000001ZM632.1 665.3H666.6999999999999L649.4 694.6ZM660.5300000000001 673.3H695.13L677.83 702.6ZM688.97 674.63H723.5699999999999L706.27 703.9300000000001ZM717.4000000000001 673.6099999999999H752.0L734.7 702.91ZM745.83 660.5799999999999H780.43L763.13 689.88ZM774.26 629.14H808.8599999999999L791.56 658.44ZM802.69 569.3599999999999H837.29L819.99 598.66ZM831.12 509.59H865.7199999999999L848.42 538.89ZM859.5500000000001 477.7H894.15L876.85 507.0ZM887.99 470.67H922.5899999999999L905.29 499.97ZM916.4200000000001 478.45H951.02L933.72 507.75ZM944.85 498.54H979.4499999999999L962.15 527.84ZM973.2800000000001 521.65H1007.88L990.58 550.95ZM1001.71 548.52H1036.31L1019.01 577.82ZM1030.14 574.89H1064.74L1047.44 604.19ZM1058.57 601.51H1093.1699999999998L1075.87 630.8100000000001ZM1087.01 628.38H1121.61L1104.31 657.6800000000001ZM1115.44 653.5H1150.04L1132.74 682.8000000000001ZM1143.8700000000001 676.56H1178.47L1161.17 705.86ZM1172.3 699.62H1206.8999999999999L1189.6 728.9200000000001ZM1200.73 721.4599999999999H1235.33L1218.03 750.76ZM1229.16 742.89H1263.76L1246.46 772.19ZM1257.5900000000001 764.12H1292.19L1274.89 793.4200000000001ZM1286.03 784.18H1320.6299999999999L1303.33 813.48ZM1314.46 803.3599999999999H1349.06L1331.76 832.66ZM1342.89 821.65H1377.49L1360.19 850.95ZM1371.32 839.01H1405.9199999999998L1388.62 868.3100000000001ZM1399.75 855.31H1434.35L1417.05 884.61ZM1428.18 870.7199999999999H1462.78L1445.48 900.02ZM1456.6100000000001 885.05H1491.21L1473.91 914.35ZM1485.05 898.7199999999999H1519.6499999999999L1502.35 928.02ZM1513.48 911.24H1548.08L1530.78 940.5400000000001ZM1541.91 922.8499999999999H1576.51L1559.21 952.15ZM1570.3400000000001 933.54H1604.94L1587.64 962.84ZM1598.77 943.28H1633.37L1616.07 972.58ZM1627.2 952.1099999999999H1661.8L1644.5 981.41ZM1655.63 960.01H1690.23L1672.93 989.3100000000001ZM1684.07 967.25H1718.6699999999998L1701.37 996.5500000000001ZM1712.5 973.9H1747.1L1729.8 1003.2ZM1740.93 979.9H1775.53L1758.23 1009.2ZM1769.3600000000001 985.38H1803.96L1786.66 1014.6800000000001ZM1797.79 990.2199999999999H1832.3899999999999L1815.09 1019.52ZM1826.22 994.7299999999999H1860.82L1843.52 1024.03ZM1854.65 998.89H1889.25L1871.95 1028.19ZM1883.0900000000001 1002.67H1917.69L1900.39 1031.97ZM1911.52 1006.17H1946.12L1928.82 1035.47ZM1939.95 1009.41H1974.55L1957.25 1038.71ZM1968.38 1012.5999999999999H2002.98L1985.68 1041.8999999999999ZM1996.81 1015.6399999999999H2031.4099999999999L2014.11 1044.9399999999998ZM2025.24 1018.48H2059.84L2042.54 1047.78ZM2053.6699999999996 1021.03H2088.27L2070.97 1050.33ZM2082.1099999999997 1023.49H2116.71L2099.41 1052.79ZM2110.54 1025.95H2145.1400000000003L2127.84 1055.25ZM2138.97 1028.47H2173.57L2156.27 1057.77ZM2167.3999999999996 1031.1299999999999H2202.0L2184.7 1060.4299999999998Z" stroke="#000" stroke-width="1.1" fill="none" stroke-linejoin="miter"/>
<path d="M194.5 278.9L222.9 299.9L251.4 323.9L279.8 347.8L308.2 377.4L336.7 406.8L365.1 439.3L393.5 474.1L422.0 507.6L450.4 541.6L478.8 574.5L507.2 605.2L535.7 633.3L564.1 657.0L592.5 678.0L621.0 695.7L649.4 712.3L677.8 723.7L706.3 734.0L734.7 741.7L763.1 744.6L791.6 744.6L820.0 735.3L848.4 710.2L876.9 649.4L905.3 584.6L933.7 552.2L962.1 547.7L990.6 558.2L1019.0 577.1L1047.4 601.0L1075.9 627.1L1104.3 652.5L1132.7 679.5L1161.2 702.7L1189.6 727.4L1218.0 750.0L1246.5 770.0L1274.9 790.7L1303.3 810.2L1331.8 828.7L1360.2 846.5L1388.6 863.5L1417.1 879.4L1445.5 894.4L1473.9 908.4L1502.3 921.5L1530.8 933.6L1559.2 944.7L1587.6 954.9L1616.1 964.1L1644.5 972.6L1672.9 980.3L1701.4 987.4L1729.8 993.8L1758.2 999.6L1786.7 1004.7L1815.1 1009.3L1843.5 1013.6L1872.0 1017.6L1900.4 1021.2L1928.8 1024.6L1957.2 1027.6L1985.7 1030.6L2014.1 1033.3L2042.5 1035.8L2071.0 1038.1L2099.4 1040.3L2127.8 1042.5L2156.3 1044.8L2184.7 1047.3" stroke="#000" stroke-width="1.1" fill="none" stroke-linejoin="round"/>
<path d="M185.1 262.11V295.71000000000004L214.7 278.91ZM213.53 283.09V316.69L243.13 299.89ZM241.96 307.06V340.66L271.56 323.86ZM270.39000000000004 331.03V364.63L299.99 347.83ZM298.83000000000004 360.59999999999997V394.2L328.43 377.4ZM327.26000000000005 389.96V423.56L356.86 406.76ZM355.69 422.53V456.13L385.28999999999996 439.33ZM384.12 457.28999999999996V490.89L413.71999999999997 474.09ZM412.55 490.84999999999997V524.4499999999999L442.15 507.65ZM440.98 524.8100000000001V558.41L470.58 541.61ZM469.41 557.6700000000001V591.27L499.01 574.47ZM497.85 588.3900000000001V621.99L527.45 605.19ZM526.28 616.5300000000001V650.13L555.88 633.33ZM554.71 640.2V673.8L584.3100000000001 657.0ZM583.14 661.2V694.8L612.74 678.0ZM611.57 678.87V712.4699999999999L641.1700000000001 695.67ZM640.0 695.5300000000001V729.13L669.6 712.33ZM668.4300000000001 706.87V740.4699999999999L698.0300000000001 723.67ZM696.87 717.2V750.8L726.47 734.0ZM725.3000000000001 724.87V758.4699999999999L754.9000000000001 741.67ZM753.73 727.82V761.42L783.33 744.62ZM782.16 727.7700000000001V761.37L811.76 744.57ZM810.59 718.47V752.0699999999999L840.19 735.27ZM839.02 693.36V726.9599999999999L868.62 710.16ZM867.45 632.58V666.18L897.0500000000001 649.38ZM895.89 567.7900000000001V601.39L925.49 584.59ZM924.32 535.3900000000001V568.99L953.9200000000001 552.19ZM952.75 530.87V564.4699999999999L982.35 547.67ZM981.1800000000001 541.4200000000001V575.02L1010.7800000000001 558.22ZM1009.61 560.25V593.8499999999999L1039.21 577.05ZM1038.04 584.2V617.8L1067.64 601.0ZM1066.4699999999998 610.3000000000001V643.9L1096.07 627.1ZM1094.9099999999999 635.7V669.3L1124.51 652.5ZM1123.34 662.7V696.3L1152.94 679.5ZM1151.77 685.9000000000001V719.5L1181.3700000000001 702.7ZM1180.1999999999998 710.6V744.1999999999999L1209.8 727.4ZM1208.6299999999999 733.2V766.8L1238.23 750.0ZM1237.06 753.1800000000001V786.78L1266.66 769.98ZM1265.49 773.9000000000001V807.5L1295.0900000000001 790.7ZM1293.9299999999998 793.37V826.9699999999999L1323.53 810.17ZM1322.36 811.9200000000001V845.52L1351.96 828.72ZM1350.79 829.7V863.3L1380.39 846.5ZM1379.2199999999998 846.6800000000001V880.28L1408.82 863.48ZM1407.6499999999999 862.5600000000001V896.16L1437.25 879.36ZM1436.08 877.5500000000001V911.15L1465.68 894.35ZM1464.51 891.57V925.17L1494.1100000000001 908.37ZM1492.9499999999998 904.71V938.31L1522.55 921.51ZM1521.3799999999999 916.8100000000001V950.41L1550.98 933.61ZM1549.81 927.87V961.4699999999999L1579.41 944.67ZM1578.24 938.0600000000001V971.66L1607.8400000000001 954.86ZM1606.6699999999998 947.35V980.9499999999999L1636.27 964.15ZM1635.1 955.84V989.4399999999999L1664.7 972.64ZM1663.53 963.5200000000001V997.12L1693.13 980.32ZM1691.9699999999998 970.57V1004.17L1721.57 987.37ZM1720.3999999999999 976.98V1010.5799999999999L1750.0 993.78ZM1748.83 982.7700000000001V1016.37L1778.43 999.57ZM1777.26 987.9000000000001V1021.5L1806.8600000000001 1004.7ZM1805.6899999999998 992.5400000000001V1026.14L1835.29 1009.34ZM1834.12 996.82V1030.42L1863.72 1013.62ZM1862.55 1000.7800000000001V1034.38L1892.15 1017.58ZM1890.99 1004.3900000000001V1037.99L1920.5900000000001 1021.19ZM1919.4199999999998 1007.76V1041.36L1949.02 1024.56ZM1947.85 1010.8300000000002V1044.43L1977.45 1027.63ZM1976.28 1013.78V1047.3799999999999L2005.88 1030.58ZM2004.7099999999998 1016.5V1050.1L2034.31 1033.3ZM2033.1399999999999 1019.02V1052.62L2062.74 1035.82ZM2061.5699999999997 1021.29V1054.8899999999999L2091.1699999999996 1038.09ZM2090.0099999999998 1023.49V1057.09L2119.6099999999997 1040.29ZM2118.44 1025.7V1059.3L2148.04 1042.5ZM2146.87 1027.99V1061.59L2176.47 1044.79ZM2175.2999999999997 1030.45V1064.05L2204.8999999999996 1047.25Z" stroke="#000" stroke-width="1.1" fill="none" stroke-linejoin="miter"/>
<path d="M194.5 291.3L222.9 316.9L251.4 342.8L279.8 370.8L308.2 400.4L336.7 432.7L365.1 466.7L393.5 501.7L422.0 536.1L450.4 570.0L478.8 603.7L507.2 633.3L535.7 661.7L564.1 685.0L592.5 707.7L621.0 726.7L649.4 742.7L677.8 757.7L706.3 772.0L734.7 783.7L763.1 794.2L791.6 801.3L820.0 809.6L848.4 812.4L876.9 812.4L905.3 806.1L933.7 783.7L962.1 707.4L990.6 642.1L1019.0 622.8L1047.4 625.8L1075.9 640.8L1104.3 661.2L1132.7 685.0L1161.2 708.9L1189.6 731.9L1218.0 754.5L1246.5 777.1L1274.9 798.5L1303.3 818.5L1331.8 837.3L1360.2 855.0L1388.6 871.8L1417.1 887.7L1445.5 902.6L1473.9 916.5L1502.3 929.5L1530.8 941.5L1559.2 952.4L1587.6 962.4L1616.1 971.6L1644.5 980.0L1672.9 987.7L1701.4 994.8L1729.8 1001.2L1758.2 1006.9L1786.7 1012.0L1815.1 1016.6L1843.5 1020.8L1872.0 1024.8L1900.4 1028.4L1928.8 1031.8L1957.2 1034.9L1985.7 1037.8L2014.1 1040.4L2042.5 1042.7L2071.0 1044.9L2099.4 1047.0L2127.8 1049.1L2156.3 1051.3L2184.7 1053.7" stroke="#000" stroke-width="1.1" fill="none" stroke-linejoin="round"/>
<path d="M194.50 275.30L197.91 286.36L208.96 286.36L200.01 293.19L203.43 304.24L194.50 297.40L185.57 304.24L188.99 293.19L180.04 286.36L191.09 286.36ZM222.93 300.87L226.34 311.93L237.39 311.93L228.44 318.76L231.86 329.81L222.93 322.97L214.00 329.81L217.42 318.76L208.47 311.93L219.52 311.93ZM251.36 326.84L254.77 337.90L265.82 337.90L256.87 344.73L260.29 355.78L251.36 348.94L242.43 355.78L245.85 344.73L236.90 337.90L247.95 337.90ZM279.79 354.80L283.20 365.86L294.25 365.86L285.30 372.69L288.72 383.74L279.79 376.90L270.86 383.74L274.28 372.69L265.33 365.86L276.38 365.86ZM308.23 384.37L311.64 395.43L322.69 395.43L313.74 402.26L317.16 413.31L308.23 406.47L299.30 413.31L302.72 402.26L293.77 395.43L304.82 395.43ZM336.66 416.73L340.07 427.79L351.12 427.79L342.17 434.62L345.59 445.67L336.66 438.83L327.73 445.67L331.15 434.62L322.20 427.79L333.25 427.79ZM365.09 450.70L368.50 461.76L379.55 461.76L370.60 468.59L374.02 479.64L365.09 472.80L356.16 479.64L359.58 468.59L350.63 461.76L361.68 461.76ZM393.52 485.66L396.93 496.72L407.98 496.72L399.03 503.55L402.45 514.60L393.52 507.76L384.59 514.60L388.01 503.55L379.06 496.72L390.11 496.72ZM421.95 520.14L425.36 531.20L436.41 531.20L427.46 538.03L430.88 549.08L421.95 542.24L413.02 549.08L416.44 538.03L407.49 531.20L418.54 531.20ZM450.38 554.00L453.79 565.06L464.84 565.06L455.89 571.89L459.31 582.94L450.38 576.10L441.45 582.94L444.87 571.89L435.92 565.06L446.97 565.06ZM478.81 587.67L482.22 598.73L493.27 598.73L484.32 605.56L487.74 616.61L478.81 609.77L469.88 616.61L473.30 605.56L464.35 598.73L475.40 598.73ZM507.25 617.33L510.66 628.39L521.71 628.39L512.76 635.22L516.18 646.27L507.25 639.43L498.32 646.27L501.74 635.22L492.79 628.39L503.84 628.39ZM535.68 645.67L539.09 656.73L550.14 656.73L541.19 663.56L544.61 674.61L535.68 667.77L526.75 674.61L530.17 663.56L521.22 656.73L532.27 656.73ZM564.11 669.00L567.52 680.06L578.57 680.06L569.62 686.89L573.04 697.94L564.11 691.10L555.18 697.94L558.60 686.89L549.65 680.06L560.70 680.06ZM592.54 691.67L595.95 702.73L607.00 702.73L598.05 709.56L601.47 720.61L592.54 713.77L583.61 720.61L587.03 709.56L578.08 702.73L589.13 702.73ZM620.97 710.67L624.38 721.73L635.43 721.73L626.48 728.56L629.90 739.61L620.97 732.77L612.04 739.61L615.46 728.56L606.51 721.73L617.56 721.73ZM649.40 726.67L652.81 737.73L663.86 737.73L654.91 744.56L658.33 755.61L649.40 748.77L640.47 755.61L643.89 744.56L634.94 737.73L645.99 737.73ZM677.83 741.67L681.24 752.73L692.29 752.73L683.34 759.56L686.76 770.61L677.83 763.77L668.90 770.61L672.32 759.56L663.37 752.73L674.42 752.73ZM706.27 756.00L709.68 767.06L720.73 767.06L711.78 773.89L715.20 784.94L706.27 778.10L697.34 784.94L700.76 773.89L691.81 767.06L702.86 767.06ZM734.70 767.67L738.11 778.73L749.16 778.73L740.21 785.56L743.63 796.61L734.70 789.77L725.77 796.61L729.19 785.56L720.24 778.73L731.29 778.73ZM763.13 778.19L766.54 789.25L777.59 789.25L768.64 796.08L772.06 807.13L763.13 800.29L754.20 807.13L757.62 796.08L748.67 789.25L759.72 789.25ZM791.56 785.32L794.97 796.38L806.02 796.38L797.07 803.21L800.49 814.26L791.56 807.42L782.63 814.26L786.05 803.21L777.10 796.38L788.15 796.38ZM819.99 793.61L823.40 804.67L834.45 804.67L825.50 811.50L828.92 822.55L819.99 815.71L811.06 822.55L814.48 811.50L805.53 804.67L816.58 804.67ZM848.42 796.37L851.83 807.43L862.88 807.43L853.93 814.26L857.35 825.31L848.42 818.47L839.49 825.31L842.91 814.26L833.96 807.43L845.01 807.43ZM876.85 796.37L880.26 807.43L891.31 807.43L882.36 814.26L885.78 825.31L876.85 818.47L867.92 825.31L871.34 814.26L862.39 807.43L873.44 807.43ZM905.29 790.10L908.70 801.16L919.75 801.16L910.80 807.99L914.22 819.04L905.29 812.20L896.36 819.04L899.78 807.99L890.83 801.16L901.88 801.16ZM933.72 767.74L937.13 778.80L948.18 778.80L939.23 785.63L942.65 796.68L933.72 789.84L924.79 796.68L928.21 785.63L919.26 778.80L930.31 778.80ZM962.15 691.40L965.56 702.46L976.61 702.46L967.66 709.29L971.08 720.34L962.15 713.50L953.22 720.34L956.64 709.29L947.69 702.46L958.74 702.46ZM990.58 626.10L993.99 637.16L1005.04 637.16L996.09 643.99L999.51 655.04L990.58 648.20L981.65 655.04L985.07 643.99L976.12 637.16L987.17 637.16ZM1019.01 606.76L1022.42 617.82L1033.47 617.82L1024.52 624.65L1027.94 635.70L1019.01 628.86L1010.08 635.70L1013.50 624.65L1004.55 617.82L1015.60 617.82ZM1047.44 609.78L1050.85 620.84L1061.90 620.84L1052.95 627.67L1056.37 638.72L1047.44 631.88L1038.51 638.72L1041.93 627.67L1032.98 620.84L1044.03 620.84ZM1075.87 624.84L1079.28 635.90L1090.33 635.90L1081.38 642.73L1084.80 653.78L1075.87 646.94L1066.94 653.78L1070.36 642.73L1061.41 635.90L1072.46 635.90ZM1104.31 645.19L1107.72 656.25L1118.77 656.25L1109.82 663.08L1113.24 674.13L1104.31 667.29L1095.38 674.13L1098.80 663.08L1089.85 656.25L1100.90 656.25ZM1132.74 669.05L1136.15 680.11L1147.20 680.11L1138.25 686.94L1141.67 697.99L1132.74 691.15L1123.81 697.99L1127.23 686.94L1118.28 680.11L1129.33 680.11ZM1161.17 692.90L1164.58 703.96L1175.63 703.96L1166.68 710.79L1170.10 721.84L1161.17 715.00L1152.24 721.84L1155.66 710.79L1146.71 703.96L1157.76 703.96ZM1189.60 715.92L1193.01 726.98L1204.06 726.98L1195.11 733.81L1198.53 744.86L1189.60 738.02L1180.67 744.86L1184.09 733.81L1175.14 726.98L1186.19 726.98ZM1218.03 738.52L1221.44 749.58L1232.49 749.58L1223.54 756.41L1226.96 767.46L1218.03 760.62L1209.10 767.46L1212.52 756.41L1203.57 749.58L1214.62 749.58ZM1246.46 761.13L1249.87 772.19L1260.92 772.19L1251.97 779.02L1255.39 790.07L1246.46 783.23L1237.53 790.07L1240.95 779.02L1232.00 772.19L1243.05 772.19ZM1274.89 782.45L1278.30 793.51L1289.35 793.51L1280.40 800.34L1283.82 811.39L1274.89 804.55L1265.96 811.39L1269.38 800.34L1260.43 793.51L1271.48 793.51ZM1303.33 802.48L1306.74 813.54L1317.79 813.54L1308.84 820.37L1312.26 831.42L1303.33 824.58L1294.40 831.42L1297.82 820.37L1288.87 813.54L1299.92 813.54ZM1331.76 821.29L1335.17 832.35L1346.22 832.35L1337.27 839.18L1340.69 850.23L1331.76 843.39L1322.83 850.23L1326.25 839.18L1317.30 832.35L1328.35 832.35ZM1360.19 839.03L1363.60 850.09L1374.65 850.09L1365.70 856.92L1369.12 867.97L1360.19 861.13L1351.26 867.97L1354.68 856.92L1345.73 850.09L1356.78 850.09ZM1388.62 855.83L1392.03 866.89L1403.08 866.89L1394.13 873.72L1397.55 884.77L1388.62 877.93L1379.69 884.77L1383.11 873.72L1374.16 866.89L1385.21 866.89ZM1417.05 871.68L1420.46 882.74L1431.51 882.74L1422.56 889.57L1425.98 900.62L1417.05 893.78L1408.12 900.62L1411.54 889.57L1402.59 882.74L1413.64 882.74ZM1445.48 886.58L1448.89 897.64L1459.94 897.64L1450.99 904.47L1454.41 915.52L1445.48 908.68L1436.55 915.52L1439.97 904.47L1431.02 897.64L1442.07 897.64ZM1473.91 900.55L1477.32 911.61L1488.37 911.61L1479.42 918.44L1482.84 929.49L1473.91 922.65L1464.98 929.49L1468.40 918.44L1459.45 911.61L1470.50 911.61ZM1502.35 913.54L1505.76 924.60L1516.81 924.60L1507.86 931.43L1511.28 942.48L1502.35 935.64L1493.42 942.48L1496.84 931.43L1487.89 924.60L1498.94 924.60ZM1530.78 925.53L1534.19 936.59L1545.24 936.59L1536.29 943.42L1539.71 954.47L1530.78 947.63L1521.85 954.47L1525.27 943.42L1516.32 936.59L1527.37 936.59ZM1559.21 936.41L1562.62 947.47L1573.67 947.47L1564.72 954.30L1568.14 965.35L1559.21 958.51L1550.28 965.35L1553.70 954.30L1544.75 947.47L1555.80 947.47ZM1587.64 946.44L1591.05 957.50L1602.10 957.50L1593.15 964.33L1596.57 975.38L1587.64 968.54L1578.71 975.38L1582.13 964.33L1573.18 957.50L1584.23 957.50ZM1616.07 955.59L1619.48 966.65L1630.53 966.65L1621.58 973.48L1625.00 984.53L1616.07 977.69L1607.14 984.53L1610.56 973.48L1601.61 966.65L1612.66 966.65ZM1644.50 964.03L1647.91 975.09L1658.96 975.09L1650.01 981.92L1653.43 992.97L1644.50 986.13L1635.57 992.97L1638.99 981.92L1630.04 975.09L1641.09 975.09ZM1672.93 971.71L1676.34 982.77L1687.39 982.77L1678.44 989.60L1681.86 1000.65L1672.93 993.81L1664.00 1000.65L1667.42 989.60L1658.47 982.77L1669.52 982.77ZM1701.37 978.78L1704.78 989.84L1715.83 989.84L1706.88 996.67L1710.30 1007.72L1701.37 1000.88L1692.44 1007.72L1695.86 996.67L1686.91 989.84L1697.96 989.84ZM1729.80 985.15L1733.21 996.21L1744.26 996.21L1735.31 1003.04L1738.73 1014.09L1729.80 1007.25L1720.87 1014.09L1724.29 1003.04L1715.34 996.21L1726.39 996.21ZM1758.23 990.92L1761.64 1001.98L1772.69 1001.98L1763.74 1008.81L1767.16 1019.86L1758.23 1013.02L1749.30 1019.86L1752.72 1008.81L1743.77 1001.98L1754.82 1001.98ZM1786.66 995.95L1790.07 1007.01L1801.12 1007.01L1792.17 1013.84L1795.59 1024.89L1786.66 1018.05L1777.73 1024.89L1781.15 1013.84L1772.20 1007.01L1783.25 1007.01ZM1815.09 1000.59L1818.50 1011.65L1829.55 1011.65L1820.60 1018.48L1824.02 1029.53L1815.09 1022.69L1806.16 1029.53L1809.58 1018.48L1800.63 1011.65L1811.68 1011.65ZM1843.52 1004.84L1846.93 1015.90L1857.98 1015.90L1849.03 1022.73L1852.45 1033.78L1843.52 1026.94L1834.59 1033.78L1838.01 1022.73L1829.06 1015.90L1840.11 1015.90ZM1871.95 1008.79L1875.36 1019.85L1886.41 1019.85L1877.46 1026.68L1880.88 1037.73L1871.95 1030.89L1863.02 1037.73L1866.44 1026.68L1857.49 1019.85L1868.54 1019.85ZM1900.39 1012.42L1903.80 1023.48L1914.85 1023.48L1905.90 1030.31L1909.32 1041.36L1900.39 1034.52L1891.46 1041.36L1894.88 1030.31L1885.93 1023.48L1896.98 1023.48ZM1928.82 1015.83L1932.23 1026.89L1943.28 1026.89L1934.33 1033.72L1937.75 1044.77L1928.82 1037.93L1919.89 1044.77L1923.31 1033.72L1914.36 1026.89L1925.41 1026.89ZM1957.25 1018.89L1960.66 1029.95L1971.71 1029.95L1962.76 1036.78L1966.18 1047.83L1957.25 1040.99L1948.32 1047.83L1951.74 1036.78L1942.79 1029.95L1953.84 1029.95ZM1985.68 1021.77L1989.09 1032.83L2000.14 1032.83L1991.19 1039.66L1994.61 1050.71L1985.68 1043.87L1976.75 1050.71L1980.17 1039.66L1971.22 1032.83L1982.27 1032.83ZM2014.11 1024.36L2017.52 1035.42L2028.57 1035.42L2019.62 1042.25L2023.04 1053.30L2014.11 1046.46L2005.18 1053.30L2008.60 1042.25L1999.65 1035.42L2010.70 1035.42ZM2042.54 1026.74L2045.95 1037.80L2057.00 1037.80L2048.05 1044.63L2051.47 1055.68L2042.54 1048.84L2033.61 1055.68L2037.03 1044.63L2028.08 1037.80L2039.13 1037.80ZM2070.97 1028.89L2074.38 1039.95L2085.43 1039.95L2076.48 1046.78L2079.90 1057.83L2070.97 1050.99L2062.04 1057.83L2065.46 1046.78L2056.51 1039.95L2067.56 1039.95ZM2099.41 1030.97L2102.82 1042.03L2113.87 1042.03L2104.92 1048.86L2108.34 1059.91L2099.41 1053.07L2090.48 1059.91L2093.90 1048.86L2084.95 1042.03L2096.00 1042.03ZM2127.84 1033.08L2131.25 1044.14L2142.30 1044.14L2133.35 1050.97L2136.77 1062.02L2127.84 1055.18L2118.91 1062.02L2122.33 1050.97L2113.38 1044.14L2124.43 1044.14ZM2156.27 1035.29L2159.68 1046.35L2170.73 1046.35L2161.78 1053.18L2165.20 1064.23L2156.27 1057.39L2147.34 1064.23L2150.76 1053.18L2141.81 1046.35L2152.86 1046.35ZM2184.70 1037.68L2188.11 1048.74L2199.16 1048.74L2190.21 1055.57L2193.63 1066.62L2184.70 1059.78L2175.77 1066.62L2179.19 1055.57L2170.24 1048.74L2181.29 1048.74Z" stroke="#000" stroke-width="1.1" fill="none" stroke-linejoin="miter"/>
<path d="M478.81 49.3v20M478.81 1181.0v-20M763.13 49.3v20M763.13 1181.0v-20M1047.44 49.3v20M1047.44 1181.0v-20M1331.76 49.3v20M1331.76 1181.0v-20M1616.07 49.3v20M1616.07 1181.0v-20M1900.39 49.3v20M1900.39 1181.0v-20" stroke="#262626" stroke-width="2.4" fill="none"/>
<path d="M194.5 992.38h20M2184.7 992.38h-20M194.5 803.77h20M2184.7 803.77h-20M194.5 615.15h20M2184.7 615.15h-20M194.5 426.53h20M2184.7 426.53h-20M194.5 237.92h20M2184.7 237.92h-20" stroke="#262626" stroke-width="1.8" fill="none"/>
<path d="M193.1 49.3H2186.1M193.1 1181.0H2186.1" stroke="#262626" stroke-width="2.1" fill="none"/>
<path d="M194.5 48.3V1182.0M2184.7 48.3V1182.0" stroke="#262626" stroke-width="3" fill="none"/>
<g class="tk" text-anchor="middle">
<text x="194.8" y="1243.8">1000</text>
<text x="479.1" y="1243.8">1500</text>
<text x="763.4" y="1243.8">2000</text>
<text x="1047.7" y="1243.8">2500</text>
<text x="1332.1" y="1243.8">3000</text>
<text x="1616.4" y="1243.8">3500</text>
<text x="1900.7" y="1243.8">4000</text>
<text x="2185.0" y="1243.8">4500</text>
</g>
<g class="tk" text-anchor="end">
<text x="177.6" y="1197.6">0</text>
<text x="177.6" y="1009.0">0.5</text>
<text x="177.6" y="820.4">1</text>
<text x="177.6" y="631.8">1.5</text>
<text x="177.6" y="443.1">2</text>
<text x="177.6" y="254.5">2.5</text>
<text x="177.6" y="65.9">3</text>
</g>
<g class="xl"><text class="gi" stroke-width="2.2" transform="matrix(0.5460 0 0 0.5382 1061.83 1306.36)">ω</text><text class="gs" transform="matrix(0.3688 0 0 0.4000 1097.77 1314.00)">1</text><text class="gs" stroke="#fff" stroke-width="2.2" transform="matrix(0.8036 0 0 0.8328 1122.00 1318.97)">/</text><text class="gs" stroke-width="0.4" transform="matrix(0.5608 0 0 0.6166 1148.18 1306.70)">(</text><text class="gs" transform="matrix(0.6525 0 0 0.5376 1167.00 1306.40)">r</text><text class="gs" transform="matrix(0.6076 0 0 0.5521 1187.67 1306.45)">a</text><text class="gs" transform="matrix(0.6718 0 0 0.5702 1212.25 1306.43)">d</text><text class="gs" stroke="#fff" stroke-width="2.2" transform="matrix(0.8036 0 0 0.8328 1248.20 1318.97)">/</text><text class="gs" transform="matrix(0.6400 0 0 0.5521 1271.14 1306.45)">s</text><text class="gs" stroke-width="0.4" transform="matrix(0.5592 0 0 0.6166 1295.08 1306.70)">)</text></g>
<g class="yl"><text class="gs" transform="matrix(0 -0.5624 0.5822 0 86.52 740.01)">0</text><text class="gi" transform="matrix(0 -0.6963 0.5817 0 85.10 709.74)">X</text><text class="gs" stroke="#fff" stroke-width="2.2" transform="matrix(0 -0.8000 0.8328 0 97.97 665.00)">/</text><text class="gs" transform="matrix(0 -0.5759 0.5591 0 85.10 642.14)">1</text><text class="gs" transform="matrix(0 -0.5718 0.5822 0 86.52 614.14)">0</text><text class="gs" stroke-width="0" transform="matrix(0 -0.5247 0.6000 0 72.75 586.72)">−</text><text class="gs" transform="matrix(0 -0.3826 0.4150 0 63.88 558.00)">5</text><text class="gs" transform="matrix(0 -0.5980 0.5340 0 84.90 535.20)">m</text></g>
<rect x="2264.4" y="49.1" width="187.4" height="651.4" fill="#fff" stroke="#262626" stroke-width="1.1"/>
<path d="M2271 84.7H2327" stroke="#000" stroke-width="1.1" fill="none"/>
<path d="M2283 84.7H2315M2299 68.7V100.7" stroke="#000" stroke-width="1.1" fill="none"/>
<text class="lg" transform="translate(2331.6,92.2) scale(0.966,1)">e<tspan class="lsub" dy="18">2</tspan><tspan dy="-18">=0.1</tspan></text>
<path d="M2271 149.2H2327" stroke="#000" stroke-width="1.1" fill="none"/>
<path d="M2284.6 149.23a14.4 14.4 0 1 0 28.8 0a14.4 14.4 0 1 0 -28.8 0Z" stroke="#000" stroke-width="1.1" fill="none"/>
<text class="lg" transform="translate(2331.6,156.7) scale(0.966,1)">e<tspan class="lsub" dy="18">2</tspan><tspan dy="-18">=0.2</tspan></text>
<path d="M2271 213.8H2327" stroke="#000" stroke-width="1.7" stroke-dasharray="13.5 3.4 2.3 4.6 13.2 3.9 2.3 3.4 20" fill="none"/>
<text class="lg" transform="translate(2331.6,221.3) scale(0.966,1)">e<tspan class="lsub" dy="18">2</tspan><tspan dy="-18">=0.3</tspan></text>
<path d="M2271 278.3H2327" stroke="#000" stroke-width="1.1" fill="none"/>
<path d="M2287.7 266.99L2310.3 289.59000000000003M2287.7 289.59000000000003L2310.3 266.99" stroke="#000" stroke-width="1.1" fill="none"/>
<text class="lg" transform="translate(2331.6,285.8) scale(0.966,1)">e<tspan class="lsub" dy="18">2</tspan><tspan dy="-18">=0.4</tspan></text>
<path d="M2271 342.8H2327" stroke="#000" stroke-width="1.1" fill="none"/>
<path d="M2287.4 331.21999999999997H2310.6V354.42H2287.4Z" stroke="#000" stroke-width="1.1" fill="none"/>
<text class="lg" transform="translate(2331.6,350.3) scale(0.966,1)">e<tspan class="lsub" dy="18">2</tspan><tspan dy="-18">=0.5</tspan></text>
<path d="M2271 407.3H2327" stroke="#000" stroke-width="1.1" fill="none"/>
<path d="M2299 387.35L2313.8 407.35L2299 427.35L2284.2 407.35Z" stroke="#000" stroke-width="1.1" fill="none"/>
<text class="lg" transform="translate(2331.6,414.8) scale(0.966,1)">e<tspan class="lsub" dy="18">2</tspan><tspan dy="-18">=0.6</tspan></text>
<path d="M2271 471.9H2327" stroke="#000" stroke-width="1.7" stroke-dasharray="13.2 11 13.8 9 20" fill="none"/>
<text class="lg" transform="translate(2331.6,479.4) scale(0.966,1)">e<tspan class="lsub" dy="18">2</tspan><tspan dy="-18">=0.7</tspan></text>
<path d="M2271 536.4H2327" stroke="#000" stroke-width="1.1" fill="none"/>
<path d="M2281.7 526.7099999999999H2316.3L2299 556.01Z" stroke="#000" stroke-width="1.1" fill="none"/>
<text class="lg" transform="translate(2331.6,543.9) scale(0.966,1)">e<tspan class="lsub" dy="18">2</tspan><tspan dy="-18">=0.8</tspan></text>
<path d="M2271 600.9H2327" stroke="#000" stroke-width="1.1" fill="none"/>
<path d="M2289.6 584.1400000000001V617.74L2319.2 600.94Z" stroke="#000" stroke-width="1.1" fill="none"/>
<text class="lg" transform="translate(2331.6,608.4) scale(0.966,1)">e<tspan class="lsub" dy="18">2</tspan><tspan dy="-18">=0.9</tspan></text>
<path d="M2271 665.5H2327" stroke="#000" stroke-width="1.1" fill="none"/>
<path d="M2299.00 649.47L2302.41 660.53L2313.46 660.53L2304.51 667.36L2307.93 678.41L2299.00 671.57L2290.07 678.41L2293.49 667.36L2284.54 660.53L2295.59 660.53Z" stroke="#000" stroke-width="1.1" fill="none"/>
<text class="lg" transform="translate(2331.6,673.0) scale(0.966,1)">e<tspan class="lsub" dy="18">2</tspan><tspan dy="-18">=1.0</tspan></text>
<g class="cap"><text class="gs" stroke-width="0.4" transform="matrix(0.7961 0 0 0.8652 1231.22 1422.71)">(</text><text class="gb" transform="matrix(0.8133 0 0 0.8562 1258.46 1422.24)">a</text><text class="gs" stroke-width="0.4" transform="matrix(0.7767 0 0 0.8652 1299.38 1422.71)">)</text></g>
</g>
<g id="plot2">
<path d="M478.81 1552.0V2683.7M763.13 1552.0V2683.7M1047.44 1552.0V2683.7M1331.76 1552.0V2683.7M1616.07 1552.0V2683.7M1900.39 1552.0V2683.7" stroke="#262626" stroke-opacity=".17" stroke-width="1" fill="none"/>
<path d="M194.5 2557.96H2184.7M194.5 2432.21H2184.7M194.5 2306.47H2184.7M194.5 2180.72H2184.7M194.5 2054.98H2184.7M194.5 1929.23H2184.7M194.5 1803.49H2184.7M194.5 1677.74H2184.7" stroke="#262626" stroke-opacity=".17" stroke-width="1" fill="none"/>
<path d="M194.5 2649.9L222.9 2645.7L251.4 2640.9L279.8 2636.1L308.2 2630.3L336.7 2623.3L365.1 2614.5L393.5 2604.5L422.0 2592.2L450.4 2576.3L478.8 2560.0L507.2 2542.4L535.7 2530.6L564.1 2532.1L592.5 2549.3L621.0 2577.1L649.4 2602.7L677.8 2623.3L706.3 2638.3L734.7 2644.9L763.1 2646.6L791.6 2644.6L820.0 2639.6L848.4 2633.6L876.9 2625.8L905.3 2617.8L933.7 2610.1L962.1 2601.7L990.6 2593.6L1019.0 2585.4L1047.4 2577.5L1075.9 2569.8L1104.3 2562.3L1132.7 2555.0L1161.2 2548.0L1189.6 2541.1L1218.0 2534.2L1246.5 2527.2L1274.9 2520.2L1303.3 2513.4L1331.8 2506.9L1360.2 2500.4L1388.6 2494.0L1417.1 2488.1L1445.5 2482.4L1473.9 2477.0L1502.3 2471.7L1530.8 2466.3L1559.2 2461.1L1587.6 2455.9L1616.1 2450.8L1644.5 2445.4L1672.9 2439.9L1701.4 2434.3L1729.8 2428.6L1758.2 2422.9L1786.7 2417.2L1815.1 2411.7L1843.5 2406.3L1872.0 2401.2L1900.4 2396.4L1928.8 2391.7L1957.2 2387.1L1985.7 2382.6L2014.1 2378.2L2042.5 2374.1L2071.0 2370.0L2099.4 2366.2L2127.8 2362.7L2156.3 2359.4L2184.7 2356.5" stroke="#000" stroke-width="1.1" fill="none" stroke-linejoin="round"/>
<path d="M178.5 2649.93H210.5M194.5 2633.93V2665.93M206.93 2645.66H238.93M222.93 2629.66V2661.66M235.36 2640.89H267.36M251.36 2624.89V2656.89M263.79 2636.12H295.79M279.79 2620.12V2652.12M292.23 2630.34H324.23M308.23 2614.34V2646.34M320.66 2623.31H352.66M336.66 2607.31V2639.31M349.09 2614.52H381.09M365.09 2598.52V2630.52M377.52 2604.47H409.52M393.52 2588.47V2620.47M405.95 2592.17H437.95M421.95 2576.17V2608.17M434.38 2576.35H466.38M450.38 2560.35V2592.35M462.81 2560.02H494.81M478.81 2544.02V2576.02M491.25 2542.44H523.25M507.25 2526.44V2558.44M519.68 2530.64H551.68M535.68 2514.64V2546.64M548.11 2532.12H580.11M564.11 2516.12V2548.12M576.54 2549.33H608.54M592.54 2533.33V2565.33M604.97 2577.08H636.97M620.97 2561.08V2593.08M633.4 2602.67H665.4M649.4 2586.67V2618.67M661.83 2623.26H693.83M677.83 2607.26V2639.26M690.27 2638.33H722.27M706.27 2622.33V2654.33M718.7 2644.86H750.7M734.7 2628.86V2660.86M747.13 2646.62H779.13M763.13 2630.62V2662.62M775.56 2644.61H807.56M791.56 2628.61V2660.61M803.99 2639.59H835.99M819.99 2623.59V2655.59M832.42 2633.56H864.42M848.42 2617.56V2649.56M860.85 2625.78H892.85M876.85 2609.78V2641.78M889.29 2617.8H921.29M905.29 2601.8V2633.8M917.72 2610.09H949.72M933.72 2594.09V2626.09M946.15 2601.7H978.15M962.15 2585.7V2617.7M974.58 2593.55H1006.58M990.58 2577.55V2609.55M1003.01 2585.35H1035.01M1019.01 2569.35V2601.35M1031.44 2577.54H1063.44M1047.44 2561.54V2593.54M1059.87 2569.83H1091.87M1075.87 2553.83V2585.83M1088.31 2562.34H1120.31M1104.31 2546.34V2578.34M1116.74 2555.04H1148.74M1132.74 2539.04V2571.04M1145.17 2548.03H1177.17M1161.17 2532.03V2564.03M1173.6 2541.08H1205.6M1189.6 2525.08V2557.08M1202.03 2534.24H1234.03M1218.03 2518.24V2550.24M1230.46 2527.23H1262.46M1246.46 2511.23V2543.23M1258.89 2520.2H1290.89M1274.89 2504.2V2536.2M1287.33 2513.4H1319.33M1303.33 2497.4V2529.4M1315.76 2506.86H1347.76M1331.76 2490.86V2522.86M1344.19 2500.37H1376.19M1360.19 2484.37V2516.37M1372.62 2494.05H1404.62M1388.62 2478.05V2510.05M1401.05 2488.12H1433.05M1417.05 2472.12V2504.12M1429.48 2482.45H1461.48M1445.48 2466.45V2498.45M1457.91 2477.0H1489.91M1473.91 2461.0V2493.0M1486.35 2471.7H1518.35M1502.35 2455.7V2487.7M1514.78 2466.34H1546.78M1530.78 2450.34V2482.34M1543.21 2461.15H1575.21M1559.21 2445.15V2477.15M1571.64 2455.93H1603.64M1587.64 2439.93V2471.93M1600.07 2450.75H1632.07M1616.07 2434.75V2466.75M1628.5 2445.44H1660.5M1644.5 2429.44V2461.44M1656.93 2439.94H1688.93M1672.93 2423.94V2455.94M1685.37 2434.32H1717.37M1701.37 2418.32V2450.32M1713.8 2428.56H1745.8M1729.8 2412.56V2444.56M1742.23 2422.9H1774.23M1758.23 2406.9V2438.9M1770.66 2417.19H1802.66M1786.66 2401.19V2433.19M1799.09 2411.68H1831.09M1815.09 2395.68V2427.68M1827.52 2406.32H1859.52M1843.52 2390.32V2422.32M1855.95 2401.24H1887.95M1871.95 2385.24V2417.24M1884.39 2396.44H1916.39M1900.39 2380.44V2412.44M1912.82 2391.71H1944.82M1928.82 2375.71V2407.71M1941.25 2387.1H1973.25M1957.25 2371.1V2403.1M1969.68 2382.57H2001.68M1985.68 2366.57V2398.57M1998.11 2378.19H2030.11M2014.11 2362.19V2394.19M2026.54 2374.05H2058.54M2042.54 2358.05V2390.05M2054.97 2370.03H2086.97M2070.97 2354.03V2386.03M2083.41 2366.24H2115.41M2099.41 2350.24V2382.24M2111.84 2362.69H2143.84M2127.84 2346.69V2378.69M2140.27 2359.43H2172.27M2156.27 2343.43V2375.43M2168.7 2356.49H2200.7M2184.7 2340.49V2372.49" stroke="#000" stroke-width="1.1" fill="none" stroke-linejoin="miter"/>
<path d="M194.5 2617.8L222.9 2609.5L251.4 2598.9L279.8 2587.6L308.2 2575.1L336.7 2560.0L365.1 2542.4L393.5 2522.9L422.0 2499.2L450.4 2474.6L478.8 2448.8L507.2 2423.9L535.7 2406.3L564.1 2403.5L592.5 2422.2L621.0 2459.5L649.4 2501.7L677.8 2544.9L706.3 2578.8L734.7 2599.7L763.1 2606.4L791.6 2603.9L820.0 2595.9L848.4 2585.1L876.9 2570.5L905.3 2556.7L933.7 2542.4L962.1 2530.2L990.6 2517.2L1019.0 2503.9L1047.4 2490.3L1075.9 2476.4L1104.3 2462.6L1132.7 2449.0L1161.2 2435.4L1189.6 2422.3L1218.0 2409.9L1246.5 2398.1L1274.9 2386.8L1303.3 2375.7L1331.8 2364.9L1360.2 2354.1L1388.6 2343.4L1417.1 2332.4L1445.5 2321.1L1473.9 2310.0L1502.3 2298.8L1530.8 2287.6L1559.2 2276.3L1587.6 2265.2L1616.1 2254.2L1644.5 2243.3L1672.9 2232.6L1701.4 2222.0L1729.8 2211.5L1758.2 2201.1L1786.7 2190.8L1815.1 2180.5L1843.5 2170.4L1872.0 2160.6L1900.4 2150.7L1928.8 2141.1L1957.2 2131.8L1985.7 2122.5L2014.1 2113.2L2042.5 2104.1L2071.0 2095.2L2099.4 2086.5L2127.8 2077.9L2156.3 2069.5L2184.7 2061.3" stroke="#000" stroke-width="1.1" fill="none" stroke-linejoin="round"/>
<path d="M180.1 2617.79a14.4 14.4 0 1 0 28.8 0a14.4 14.4 0 1 0 -28.8 0ZM208.53 2609.5a14.4 14.4 0 1 0 28.8 0a14.4 14.4 0 1 0 -28.8 0ZM236.96 2598.95a14.4 14.4 0 1 0 28.8 0a14.4 14.4 0 1 0 -28.8 0ZM265.39000000000004 2587.65a14.4 14.4 0 1 0 28.8 0a14.4 14.4 0 1 0 -28.8 0ZM293.83000000000004 2575.09a14.4 14.4 0 1 0 28.8 0a14.4 14.4 0 1 0 -28.8 0ZM322.26000000000005 2560.02a14.4 14.4 0 1 0 28.8 0a14.4 14.4 0 1 0 -28.8 0ZM350.69 2542.44a14.4 14.4 0 1 0 28.8 0a14.4 14.4 0 1 0 -28.8 0ZM379.12 2522.85a14.4 14.4 0 1 0 28.8 0a14.4 14.4 0 1 0 -28.8 0ZM407.55 2499.25a14.4 14.4 0 1 0 28.8 0a14.4 14.4 0 1 0 -28.8 0ZM435.98 2474.63a14.4 14.4 0 1 0 28.8 0a14.4 14.4 0 1 0 -28.8 0ZM464.41 2448.77a14.4 14.4 0 1 0 28.8 0a14.4 14.4 0 1 0 -28.8 0ZM492.85 2423.9a14.4 14.4 0 1 0 28.8 0a14.4 14.4 0 1 0 -28.8 0ZM521.28 2406.32a14.4 14.4 0 1 0 28.8 0a14.4 14.4 0 1 0 -28.8 0ZM549.71 2403.54a14.4 14.4 0 1 0 28.8 0a14.4 14.4 0 1 0 -28.8 0ZM578.14 2422.25a14.4 14.4 0 1 0 28.8 0a14.4 14.4 0 1 0 -28.8 0ZM606.57 2459.54a14.4 14.4 0 1 0 28.8 0a14.4 14.4 0 1 0 -28.8 0ZM635.0 2501.71a14.4 14.4 0 1 0 28.8 0a14.4 14.4 0 1 0 -28.8 0ZM663.4300000000001 2544.91a14.4 14.4 0 1 0 28.8 0a14.4 14.4 0 1 0 -28.8 0ZM691.87 2578.81a14.4 14.4 0 1 0 28.8 0a14.4 14.4 0 1 0 -28.8 0ZM720.3000000000001 2599.66a14.4 14.4 0 1 0 28.8 0a14.4 14.4 0 1 0 -28.8 0ZM748.73 2606.44a14.4 14.4 0 1 0 28.8 0a14.4 14.4 0 1 0 -28.8 0ZM777.16 2603.93a14.4 14.4 0 1 0 28.8 0a14.4 14.4 0 1 0 -28.8 0ZM805.59 2595.89a14.4 14.4 0 1 0 28.8 0a14.4 14.4 0 1 0 -28.8 0ZM834.02 2585.09a14.4 14.4 0 1 0 28.8 0a14.4 14.4 0 1 0 -28.8 0ZM862.45 2570.53a14.4 14.4 0 1 0 28.8 0a14.4 14.4 0 1 0 -28.8 0ZM890.89 2556.71a14.4 14.4 0 1 0 28.8 0a14.4 14.4 0 1 0 -28.8 0ZM919.32 2542.4a14.4 14.4 0 1 0 28.8 0a14.4 14.4 0 1 0 -28.8 0ZM947.75 2530.2a14.4 14.4 0 1 0 28.8 0a14.4 14.4 0 1 0 -28.8 0ZM976.1800000000001 2517.16a14.4 14.4 0 1 0 28.8 0a14.4 14.4 0 1 0 -28.8 0ZM1004.61 2503.88a14.4 14.4 0 1 0 28.8 0a14.4 14.4 0 1 0 -28.8 0ZM1033.04 2490.26a14.4 14.4 0 1 0 28.8 0a14.4 14.4 0 1 0 -28.8 0ZM1061.4699999999998 2476.41a14.4 14.4 0 1 0 28.8 0a14.4 14.4 0 1 0 -28.8 0ZM1089.9099999999999 2462.64a14.4 14.4 0 1 0 28.8 0a14.4 14.4 0 1 0 -28.8 0ZM1118.34 2449.04a14.4 14.4 0 1 0 28.8 0a14.4 14.4 0 1 0 -28.8 0ZM1146.77 2435.4a14.4 14.4 0 1 0 28.8 0a14.4 14.4 0 1 0 -28.8 0ZM1175.1999999999998 2422.32a14.4 14.4 0 1 0 28.8 0a14.4 14.4 0 1 0 -28.8 0ZM1203.6299999999999 2409.91a14.4 14.4 0 1 0 28.8 0a14.4 14.4 0 1 0 -28.8 0ZM1232.06 2398.14a14.4 14.4 0 1 0 28.8 0a14.4 14.4 0 1 0 -28.8 0ZM1260.49 2386.79a14.4 14.4 0 1 0 28.8 0a14.4 14.4 0 1 0 -28.8 0ZM1288.9299999999998 2375.72a14.4 14.4 0 1 0 28.8 0a14.4 14.4 0 1 0 -28.8 0ZM1317.36 2364.86a14.4 14.4 0 1 0 28.8 0a14.4 14.4 0 1 0 -28.8 0ZM1345.79 2354.12a14.4 14.4 0 1 0 28.8 0a14.4 14.4 0 1 0 -28.8 0ZM1374.2199999999998 2343.37a14.4 14.4 0 1 0 28.8 0a14.4 14.4 0 1 0 -28.8 0ZM1402.6499999999999 2332.4a14.4 14.4 0 1 0 28.8 0a14.4 14.4 0 1 0 -28.8 0ZM1431.08 2321.1a14.4 14.4 0 1 0 28.8 0a14.4 14.4 0 1 0 -28.8 0ZM1459.51 2309.96a14.4 14.4 0 1 0 28.8 0a14.4 14.4 0 1 0 -28.8 0ZM1487.9499999999998 2298.82a14.4 14.4 0 1 0 28.8 0a14.4 14.4 0 1 0 -28.8 0ZM1516.3799999999999 2287.6a14.4 14.4 0 1 0 28.8 0a14.4 14.4 0 1 0 -28.8 0ZM1544.81 2276.32a14.4 14.4 0 1 0 28.8 0a14.4 14.4 0 1 0 -28.8 0ZM1573.24 2265.2a14.4 14.4 0 1 0 28.8 0a14.4 14.4 0 1 0 -28.8 0ZM1601.6699999999998 2254.17a14.4 14.4 0 1 0 28.8 0a14.4 14.4 0 1 0 -28.8 0ZM1630.1 2243.3a14.4 14.4 0 1 0 28.8 0a14.4 14.4 0 1 0 -28.8 0ZM1658.53 2232.55a14.4 14.4 0 1 0 28.8 0a14.4 14.4 0 1 0 -28.8 0ZM1686.9699999999998 2221.97a14.4 14.4 0 1 0 28.8 0a14.4 14.4 0 1 0 -28.8 0ZM1715.3999999999999 2211.47a14.4 14.4 0 1 0 28.8 0a14.4 14.4 0 1 0 -28.8 0ZM1743.83 2201.07a14.4 14.4 0 1 0 28.8 0a14.4 14.4 0 1 0 -28.8 0ZM1772.26 2190.82a14.4 14.4 0 1 0 28.8 0a14.4 14.4 0 1 0 -28.8 0ZM1800.6899999999998 2180.51a14.4 14.4 0 1 0 28.8 0a14.4 14.4 0 1 0 -28.8 0ZM1829.12 2170.43a14.4 14.4 0 1 0 28.8 0a14.4 14.4 0 1 0 -28.8 0ZM1857.55 2160.56a14.4 14.4 0 1 0 28.8 0a14.4 14.4 0 1 0 -28.8 0ZM1885.99 2150.75a14.4 14.4 0 1 0 28.8 0a14.4 14.4 0 1 0 -28.8 0ZM1914.4199999999998 2141.13a14.4 14.4 0 1 0 28.8 0a14.4 14.4 0 1 0 -28.8 0ZM1942.85 2131.76a14.4 14.4 0 1 0 28.8 0a14.4 14.4 0 1 0 -28.8 0ZM1971.28 2122.45a14.4 14.4 0 1 0 28.8 0a14.4 14.4 0 1 0 -28.8 0ZM1999.7099999999998 2113.21a14.4 14.4 0 1 0 28.8 0a14.4 14.4 0 1 0 -28.8 0ZM2028.1399999999999 2104.13a14.4 14.4 0 1 0 28.8 0a14.4 14.4 0 1 0 -28.8 0ZM2056.5699999999997 2095.21a14.4 14.4 0 1 0 28.8 0a14.4 14.4 0 1 0 -28.8 0ZM2085.0099999999998 2086.45a14.4 14.4 0 1 0 28.8 0a14.4 14.4 0 1 0 -28.8 0ZM2113.44 2077.88a14.4 14.4 0 1 0 28.8 0a14.4 14.4 0 1 0 -28.8 0ZM2141.87 2069.51a14.4 14.4 0 1 0 28.8 0a14.4 14.4 0 1 0 -28.8 0ZM2170.2999999999997 2061.35a14.4 14.4 0 1 0 28.8 0a14.4 14.4 0 1 0 -28.8 0Z" stroke="#000" stroke-width="1.1" fill="none" stroke-linejoin="miter"/>
<path d="M194.5 2580.6L222.9 2566.3L251.4 2551.2L279.8 2533.7L308.2 2516.1L336.7 2494.7L365.1 2470.9L393.5 2442.0L422.0 2411.8L450.4 2379.2L478.8 2346.6L507.2 2314.7L535.7 2290.0L564.1 2281.1L592.5 2292.9L621.0 2332.5L649.4 2391.0L677.8 2451.3L706.3 2503.5L734.7 2541.1L763.1 2559.5L791.6 2561.2L820.0 2552.4L848.4 2538.6L876.9 2521.1L905.3 2503.5L933.7 2481.4L962.1 2458.8L990.6 2438.1L1019.0 2422.1L1047.4 2405.0L1075.9 2387.5L1104.3 2370.8L1132.7 2354.0L1161.2 2337.3L1189.6 2319.9L1218.0 2303.2L1246.5 2286.9L1274.9 2271.4L1303.3 2256.8L1331.8 2242.8L1360.2 2229.0L1388.6 2215.3L1417.1 2201.5L1445.5 2187.5L1473.9 2173.1L1502.3 2158.5L1530.8 2143.6L1559.2 2129.2L1587.6 2115.1L1616.1 2101.2L1644.5 2087.8L1672.9 2074.9L1701.4 2062.5L1729.8 2050.5L1758.2 2038.6L1786.7 2026.9L1815.1 2015.3L1843.5 2003.9L1872.0 1992.6L1900.4 1981.5L1928.8 1970.7L1957.2 1960.1L1985.7 1949.7L2014.1 1939.4L2042.5 1929.1L2071.0 1918.9L2099.4 1908.8L2127.8 1898.9L2156.3 1889.0L2184.7 1879.2" stroke="#000" stroke-width="2.2" stroke-dasharray="10.5 3.6 2.6 3.6" fill="none" stroke-linejoin="round"/>
<path d="M194.5 2546.2L222.9 2529.4L251.4 2508.5L279.8 2485.9L308.2 2459.1L336.7 2430.2L365.1 2398.0L393.5 2366.6L422.0 2332.0L450.4 2294.5L478.8 2257.2L507.2 2221.6L535.7 2192.7L564.1 2176.3L592.5 2177.4L621.0 2204.2L649.4 2258.4L677.8 2334.5L706.3 2406.7L734.7 2462.6L763.1 2499.6L791.6 2512.3L820.0 2508.5L848.4 2491.7L876.9 2468.8L905.3 2443.2L933.7 2417.3L962.1 2394.4L990.6 2370.5L1019.0 2348.0L1047.4 2325.9L1075.9 2304.7L1104.3 2284.5L1132.7 2264.7L1161.2 2245.3L1189.6 2226.6L1218.0 2208.4L1246.5 2190.7L1274.9 2173.6L1303.3 2157.0L1331.8 2140.5L1360.2 2124.5L1388.6 2108.6L1417.1 2092.8L1445.5 2077.4L1473.9 2062.0L1502.3 2047.0L1530.8 2032.5L1559.2 2018.3L1587.6 2004.5L1616.1 1991.1L1644.5 1978.0L1672.9 1965.2L1701.4 1952.5L1729.8 1940.1L1758.2 1927.8L1786.7 1915.7L1815.1 1903.7L1843.5 1892.0L1872.0 1880.5L1900.4 1869.4L1928.8 1858.4L1957.2 1847.6L1985.7 1837.2L2014.1 1826.9L2042.5 1816.8L2071.0 1806.9L2099.4 1797.3L2127.8 1787.8L2156.3 1778.6L2184.7 1769.5" stroke="#000" stroke-width="1.1" fill="none" stroke-linejoin="round"/>
<path d="M183.2 2534.91L205.8 2557.51M183.2 2557.51L205.8 2534.91M211.63 2518.08L234.23000000000002 2540.6800000000003M211.63 2540.6800000000003L234.23000000000002 2518.08M240.06 2497.24L262.66 2519.84M240.06 2519.84L262.66 2497.24M268.49 2474.64L291.09000000000003 2497.2400000000002M268.49 2497.2400000000002L291.09000000000003 2474.64M296.93 2447.7599999999998L319.53000000000003 2470.36M296.93 2470.36L319.53000000000003 2447.7599999999998M325.36 2418.8799999999997L347.96000000000004 2441.48M325.36 2441.48L347.96000000000004 2418.8799999999997M353.78999999999996 2386.74L376.39 2409.34M353.78999999999996 2409.34L376.39 2386.74M382.21999999999997 2355.3399999999997L404.82 2377.94M382.21999999999997 2377.94L404.82 2355.3399999999997M410.65 2320.6899999999996L433.25 2343.29M410.65 2343.29L433.25 2320.6899999999996M439.08 2283.1699999999996L461.68 2305.77M439.08 2305.77L461.68 2283.1699999999996M467.51 2245.91L490.11 2268.51M467.51 2268.51L490.11 2245.91M495.95 2210.25L518.55 2232.8500000000004M495.95 2232.8500000000004L518.55 2210.25M524.38 2181.37L546.9799999999999 2203.9700000000003M524.38 2203.9700000000003L546.9799999999999 2181.37M552.8100000000001 2165.0099999999998L575.41 2187.61M552.8100000000001 2187.61L575.41 2165.0099999999998M581.24 2166.14L603.8399999999999 2188.7400000000002M581.24 2188.7400000000002L603.8399999999999 2166.14M609.6700000000001 2192.89L632.27 2215.4900000000002M609.6700000000001 2215.4900000000002L632.27 2192.89M638.1 2247.1L660.6999999999999 2269.7000000000003M638.1 2269.7000000000003L660.6999999999999 2247.1M666.5300000000001 2323.1699999999996L689.13 2345.77M666.5300000000001 2345.77L689.13 2323.1699999999996M694.97 2395.3799999999997L717.5699999999999 2417.98M694.97 2417.98L717.5699999999999 2395.3799999999997M723.4000000000001 2451.2599999999998L746.0 2473.86M723.4000000000001 2473.86L746.0 2451.2599999999998M751.83 2488.2999999999997L774.43 2510.9M751.83 2510.9L774.43 2488.2999999999997M780.26 2500.96L802.8599999999999 2523.5600000000004M780.26 2523.5600000000004L802.8599999999999 2500.96M808.69 2497.1899999999996L831.29 2519.79M808.69 2519.79L831.29 2497.1899999999996M837.12 2480.37L859.7199999999999 2502.9700000000003M837.12 2502.9700000000003L859.7199999999999 2480.37M865.5500000000001 2457.5099999999998L888.15 2480.11M865.5500000000001 2480.11L888.15 2457.5099999999998M893.99 2431.8999999999996L916.5899999999999 2454.5M893.99 2454.5L916.5899999999999 2431.8999999999996M922.4200000000001 2406.0299999999997L945.02 2428.63M922.4200000000001 2428.63L945.02 2406.0299999999997M950.85 2383.06L973.4499999999999 2405.6600000000003M950.85 2405.6600000000003L973.4499999999999 2383.06M979.2800000000001 2359.2L1001.88 2381.8M979.2800000000001 2381.8L1001.88 2359.2M1007.71 2336.74L1030.31 2359.34M1007.71 2359.34L1030.31 2336.74M1036.14 2314.64L1058.74 2337.2400000000002M1036.14 2337.2400000000002L1058.74 2314.64M1064.57 2293.35L1087.1699999999998 2315.9500000000003M1064.57 2315.9500000000003L1087.1699999999998 2293.35M1093.01 2273.1699999999996L1115.61 2295.77M1093.01 2295.77L1115.61 2273.1699999999996M1121.44 2253.39L1144.04 2275.9900000000002M1121.44 2275.9900000000002L1144.04 2253.39M1149.8700000000001 2234.04L1172.47 2256.6400000000003M1149.8700000000001 2256.6400000000003L1172.47 2234.04M1178.3 2215.2999999999997L1200.8999999999999 2237.9M1178.3 2237.9L1200.8999999999999 2215.2999999999997M1206.73 2197.0699999999997L1229.33 2219.67M1206.73 2219.67L1229.33 2197.0699999999997M1235.16 2179.43L1257.76 2202.03M1235.16 2202.03L1257.76 2179.43M1263.5900000000001 2162.33L1286.19 2184.9300000000003M1263.5900000000001 2184.9300000000003L1286.19 2162.33M1292.03 2145.6499999999996L1314.6299999999999 2168.25M1292.03 2168.25L1314.6299999999999 2145.6499999999996M1320.46 2129.22L1343.06 2151.82M1320.46 2151.82L1343.06 2129.22M1348.89 2113.1699999999996L1371.49 2135.77M1348.89 2135.77L1371.49 2113.1699999999996M1377.32 2097.3199999999997L1399.9199999999998 2119.92M1377.32 2119.92L1399.9199999999998 2097.3199999999997M1405.75 2081.5L1428.35 2104.1000000000004M1405.75 2104.1000000000004L1428.35 2081.5M1434.18 2066.08L1456.78 2088.6800000000003M1434.18 2088.6800000000003L1456.78 2066.08M1462.6100000000001 2050.72L1485.21 2073.32M1462.6100000000001 2073.32L1485.21 2050.72M1491.05 2035.75L1513.6499999999999 2058.35M1491.05 2058.35L1513.6499999999999 2035.75M1519.48 2021.23L1542.08 2043.83M1519.48 2043.83L1542.08 2021.23M1547.91 2007.0L1570.51 2029.6M1547.91 2029.6L1570.51 2007.0M1576.3400000000001 1993.17L1598.94 2015.77M1576.3400000000001 2015.77L1598.94 1993.17M1604.77 1979.82L1627.37 2002.4199999999998M1604.77 2002.4199999999998L1627.37 1979.82M1633.2 1966.7L1655.8 1989.3M1633.2 1989.3L1655.8 1966.7M1661.63 1953.8600000000001L1684.23 1976.46M1661.63 1976.46L1684.23 1953.8600000000001M1690.07 1941.21L1712.6699999999998 1963.81M1690.07 1963.81L1712.6699999999998 1941.21M1718.5 1928.8400000000001L1741.1 1951.44M1718.5 1951.44L1741.1 1928.8400000000001M1746.93 1916.52L1769.53 1939.12M1746.93 1939.12L1769.53 1916.52M1775.3600000000001 1904.41L1797.96 1927.01M1775.3600000000001 1927.01L1797.96 1904.41M1803.79 1892.45L1826.3899999999999 1915.05M1803.79 1915.05L1826.3899999999999 1892.45M1832.22 1880.67L1854.82 1903.27M1832.22 1903.27L1854.82 1880.67M1860.65 1869.22L1883.25 1891.82M1860.65 1891.82L1883.25 1869.22M1889.0900000000001 1858.0900000000001L1911.69 1880.69M1889.0900000000001 1880.69L1911.69 1858.0900000000001M1917.52 1847.0800000000002L1940.12 1869.68M1917.52 1869.68L1940.12 1847.0800000000002M1945.95 1836.3300000000002L1968.55 1858.93M1945.95 1858.93L1968.55 1836.3300000000002M1974.38 1825.8500000000001L1996.98 1848.45M1974.38 1848.45L1996.98 1825.8500000000001M2002.81 1815.63L2025.4099999999999 1838.23M2002.81 1838.23L2025.4099999999999 1815.63M2031.24 1805.52L2053.84 1828.12M2031.24 1828.12L2053.84 1805.52M2059.6699999999996 1795.63L2082.27 1818.23M2059.6699999999996 1818.23L2082.27 1795.63M2088.1099999999997 1785.96L2110.71 1808.56M2088.1099999999997 1808.56L2110.71 1785.96M2116.54 1776.5L2139.1400000000003 1799.1M2116.54 1799.1L2139.1400000000003 1776.5M2144.97 1767.26L2167.57 1789.86M2144.97 1789.86L2167.57 1767.26M2173.3999999999996 1758.24L2196.0 1780.84M2173.3999999999996 1780.84L2196.0 1758.24" stroke="#000" stroke-width="1.1" fill="none" stroke-linejoin="miter"/>
<path d="M194.5 2511.1L222.9 2487.9L251.4 2462.8L279.8 2433.2L308.2 2401.3L336.7 2369.9L365.1 2337.0L393.5 2300.0L422.0 2261.7L450.4 2222.1L478.8 2180.1L507.2 2143.7L535.7 2111.1L564.1 2089.7L592.5 2083.0L621.0 2093.1L649.4 2127.1L677.8 2188.8L706.3 2274.7L734.7 2357.7L763.1 2414.8L791.6 2446.1L820.0 2453.8L848.4 2442.2L876.9 2419.7L905.3 2395.1L933.7 2368.0L962.1 2341.3L990.6 2312.9L1019.0 2287.0L1047.4 2261.9L1075.9 2237.5L1104.3 2213.8L1132.7 2192.0L1161.2 2171.4L1189.6 2150.8L1218.0 2131.1L1246.5 2112.3L1274.9 2093.7L1303.3 2075.6L1331.8 2058.2L1360.2 2041.1L1388.6 2024.6L1417.1 2008.8L1445.5 1993.1L1473.9 1977.8L1502.3 1962.7L1530.8 1948.2L1559.2 1934.0L1587.6 1920.3L1616.1 1906.9L1644.5 1893.9L1672.9 1881.1L1701.4 1868.9L1729.8 1856.9L1758.2 1845.0L1786.7 1833.5L1815.1 1822.1L1843.5 1811.1L1872.0 1800.5L1900.4 1790.2L1928.8 1780.0L1957.2 1770.1L1985.7 1760.6L2014.1 1751.2L2042.5 1741.9L2071.0 1732.8L2099.4 1723.9L2127.8 1715.2L2156.3 1706.7L2184.7 1698.6" stroke="#000" stroke-width="1.1" fill="none" stroke-linejoin="round"/>
<path d="M182.9 2499.4500000000003H206.1V2522.65H182.9ZM211.33 2476.35H234.53V2499.5499999999997H211.33ZM239.76000000000002 2451.23H262.96000000000004V2474.43H239.76000000000002ZM268.19 2421.6H291.39000000000004V2444.7999999999997H268.19ZM296.63 2389.7000000000003H319.83000000000004V2412.9H296.63ZM325.06 2358.31H348.26000000000005V2381.5099999999998H325.06ZM353.48999999999995 2325.4100000000003H376.69V2348.61H353.48999999999995ZM381.91999999999996 2288.4H405.12V2311.6H381.91999999999996ZM410.34999999999997 2250.14H433.55V2273.3399999999997H410.34999999999997ZM438.78 2210.4500000000003H461.98V2233.65H438.78ZM467.21 2168.51H490.41V2191.71H467.21ZM495.65 2132.1H518.85V2155.2999999999997H495.65ZM524.0799999999999 2099.4500000000003H547.28V2122.65H524.0799999999999ZM552.51 2078.07H575.71V2101.27H552.51ZM580.9399999999999 2071.4100000000003H604.14V2094.61H580.9399999999999ZM609.37 2081.46H632.57V2104.66H609.37ZM637.8 2115.4500000000003H661.0V2138.65H637.8ZM666.23 2177.2400000000002H689.4300000000001V2200.44H666.23ZM694.67 2263.13H717.87V2286.33H694.67ZM723.1 2346.11H746.3000000000001V2369.31H723.1ZM751.53 2403.2400000000002H774.73V2426.44H751.53ZM779.9599999999999 2434.51H803.16V2457.71H779.9599999999999ZM808.39 2442.17H831.59V2465.37H808.39ZM836.8199999999999 2430.61H860.02V2453.81H836.8199999999999ZM865.25 2408.14H888.45V2431.3399999999997H865.25ZM893.6899999999999 2383.53H916.89V2406.73H893.6899999999999ZM922.12 2356.4H945.32V2379.6H922.12ZM950.55 2329.6600000000003H973.75V2352.86H950.55ZM978.98 2301.28H1002.1800000000001V2324.48H978.98ZM1007.41 2275.4100000000003H1030.61V2298.61H1007.41ZM1035.8400000000001 2250.29H1059.04V2273.49H1035.8400000000001ZM1064.27 2225.9300000000003H1087.4699999999998V2249.13H1064.27ZM1092.71 2202.23H1115.9099999999999V2225.43H1092.71ZM1121.14 2180.38H1144.34V2203.58H1121.14ZM1149.5700000000002 2159.77H1172.77V2182.97H1149.5700000000002ZM1178.0 2139.23H1201.1999999999998V2162.43H1178.0ZM1206.43 2119.5H1229.6299999999999V2142.7H1206.43ZM1234.8600000000001 2100.6600000000003H1258.06V2123.86H1234.8600000000001ZM1263.2900000000002 2082.12H1286.49V2105.3199999999997H1263.2900000000002ZM1291.73 2064.02H1314.9299999999998V2087.22H1291.73ZM1320.16 2046.56H1343.36V2069.7599999999998H1320.16ZM1348.5900000000001 2029.5500000000002H1371.79V2052.75H1348.5900000000001ZM1377.02 2013.0500000000002H1400.2199999999998V2036.25H1377.02ZM1405.45 1997.16H1428.6499999999999V2020.36H1405.45ZM1433.88 1981.5H1457.08V2004.6999999999998H1433.88ZM1462.3100000000002 1966.17H1485.51V1989.37H1462.3100000000002ZM1490.75 1951.1200000000001H1513.9499999999998V1974.32H1490.75ZM1519.18 1936.6100000000001H1542.3799999999999V1959.81H1519.18ZM1547.6100000000001 1922.43H1570.81V1945.6299999999999H1547.6100000000001ZM1576.0400000000002 1908.68H1599.24V1931.8799999999999H1576.0400000000002ZM1604.47 1895.2900000000002H1627.6699999999998V1918.49H1604.47ZM1632.9 1882.2800000000002H1656.1V1905.48H1632.9ZM1661.3300000000002 1869.46H1684.53V1892.6599999999999H1661.3300000000002ZM1689.77 1857.3200000000002H1712.9699999999998V1880.52H1689.77ZM1718.2 1845.25H1741.3999999999999V1868.4499999999998H1718.2ZM1746.63 1833.42H1769.83V1856.62H1746.63ZM1775.0600000000002 1821.8500000000001H1798.26V1845.05H1775.0600000000002ZM1803.49 1810.51H1826.6899999999998V1833.7099999999998H1803.49ZM1831.92 1799.5500000000002H1855.12V1822.75H1831.92ZM1860.3500000000001 1788.93H1883.55V1812.1299999999999H1860.3500000000001ZM1888.7900000000002 1778.5600000000002H1911.99V1801.76H1888.7900000000002ZM1917.22 1768.42H1940.4199999999998V1791.62H1917.22ZM1945.65 1758.48H1968.85V1781.6799999999998H1945.65ZM1974.0800000000002 1748.98H1997.28V1772.1799999999998H1974.0800000000002ZM2002.51 1739.6000000000001H2025.7099999999998V1762.8H2002.51ZM2030.94 1730.3300000000002H2054.14V1753.53H2030.94ZM2059.37 1721.2H2082.5699999999997V1744.3999999999999H2059.37ZM2087.81 1712.27H2111.0099999999998V1735.4699999999998H2087.81ZM2116.2400000000002 1703.5700000000002H2139.44V1726.77H2116.2400000000002ZM2144.67 1695.13H2167.87V1718.33H2144.67ZM2173.1 1686.97H2196.2999999999997V1710.1699999999998H2173.1Z" stroke="#000" stroke-width="1.1" fill="none" stroke-linejoin="miter"/>
<path d="M194.5 2474.6L222.9 2446.5L251.4 2413.6L279.8 2382.2L308.2 2349.8L336.7 2315.2L365.1 2278.1L393.5 2239.1L422.0 2198.2L450.4 2155.5L478.8 2114.1L507.2 2075.5L535.7 2043.1L564.1 2019.5L592.5 2006.2L621.0 2004.8L649.4 2017.8L677.8 2050.4L706.3 2112.1L734.7 2202.4L763.1 2292.3L791.6 2356.2L820.0 2386.0L848.4 2389.7L876.9 2376.5L905.3 2352.9L933.7 2324.8L962.1 2294.0L990.6 2262.8L1019.0 2234.3L1047.4 2206.6L1075.9 2180.3L1104.3 2155.4L1132.7 2131.5L1161.2 2109.7L1189.6 2087.6L1218.0 2066.5L1246.5 2046.6L1274.9 2027.5L1303.3 2008.9L1331.8 1991.2L1360.2 1974.0L1388.6 1957.4L1417.1 1941.0L1445.5 1925.3L1473.9 1909.8L1502.3 1895.1L1530.8 1881.0L1559.2 1867.4L1587.6 1854.1L1616.1 1841.3L1644.5 1828.8L1672.9 1816.7L1701.4 1805.0L1729.8 1793.8L1758.2 1782.8L1786.7 1772.4L1815.1 1762.1L1843.5 1752.0L1872.0 1742.1L1900.4 1732.2L1928.8 1722.6L1957.2 1713.4L1985.7 1704.5L2014.1 1695.8L2042.5 1687.5L2071.0 1679.4L2099.4 1671.6L2127.8 1663.9L2156.3 1656.4L2184.7 1648.9" stroke="#000" stroke-width="1.1" fill="none" stroke-linejoin="round"/>
<path d="M194.5 2454.63L209.3 2474.63L194.5 2494.63L179.7 2474.63ZM222.93 2426.51L237.73000000000002 2446.51L222.93 2466.51L208.13 2446.51ZM251.36 2393.61L266.16 2413.61L251.36 2433.61L236.56 2413.61ZM279.79 2362.21L294.59000000000003 2382.21L279.79 2402.21L264.99 2382.21ZM308.23 2329.82L323.03000000000003 2349.82L308.23 2369.82L293.43 2349.82ZM336.66 2295.19L351.46000000000004 2315.19L336.66 2335.19L321.86 2315.19ZM365.09 2258.06L379.89 2278.06L365.09 2298.06L350.28999999999996 2278.06ZM393.52 2219.13L408.32 2239.13L393.52 2259.13L378.71999999999997 2239.13ZM421.95 2178.2L436.75 2198.2L421.95 2218.2L407.15 2198.2ZM450.38 2135.5L465.18 2155.5L450.38 2175.5L435.58 2155.5ZM478.81 2094.06L493.61 2114.06L478.81 2134.06L464.01 2114.06ZM507.25 2055.47L522.05 2075.47L507.25 2095.47L492.45 2075.47ZM535.68 2023.07L550.4799999999999 2043.07L535.68 2063.0699999999997L520.88 2043.07ZM564.11 1999.46L578.91 2019.46L564.11 2039.46L549.3100000000001 2019.46ZM592.54 1986.15L607.3399999999999 2006.15L592.54 2026.15L577.74 2006.15ZM620.97 1984.77L635.77 2004.77L620.97 2024.77L606.1700000000001 2004.77ZM649.4 1997.79L664.1999999999999 2017.79L649.4 2037.79L634.6 2017.79ZM677.83 2030.4299999999998L692.63 2050.43L677.83 2070.43L663.0300000000001 2050.43ZM706.27 2092.1L721.0699999999999 2112.1L706.27 2132.1L691.47 2112.1ZM734.7 2182.4L749.5 2202.4L734.7 2222.4L719.9000000000001 2202.4ZM763.13 2272.31L777.93 2292.31L763.13 2312.31L748.33 2292.31ZM791.56 2336.2L806.3599999999999 2356.2L791.56 2376.2L776.76 2356.2ZM819.99 2365.96L834.79 2385.96L819.99 2405.96L805.19 2385.96ZM848.42 2369.73L863.2199999999999 2389.73L848.42 2409.73L833.62 2389.73ZM876.85 2356.54L891.65 2376.54L876.85 2396.54L862.0500000000001 2376.54ZM905.29 2332.93L920.0899999999999 2352.93L905.29 2372.93L890.49 2352.93ZM933.72 2304.81L948.52 2324.81L933.72 2344.81L918.9200000000001 2324.81ZM962.15 2274.04L976.9499999999999 2294.04L962.15 2314.04L947.35 2294.04ZM990.58 2242.79L1005.38 2262.79L990.58 2282.79L975.7800000000001 2262.79ZM1019.01 2214.27L1033.81 2234.27L1019.01 2254.27L1004.21 2234.27ZM1047.44 2186.64L1062.24 2206.64L1047.44 2226.64L1032.64 2206.64ZM1075.87 2160.27L1090.6699999999998 2180.27L1075.87 2200.27L1061.07 2180.27ZM1104.31 2135.4L1119.11 2155.4L1104.31 2175.4L1089.51 2155.4ZM1132.74 2111.54L1147.54 2131.54L1132.74 2151.54L1117.94 2131.54ZM1161.17 2089.75L1175.97 2109.75L1161.17 2129.75L1146.3700000000001 2109.75ZM1189.6 2067.6L1204.3999999999999 2087.6L1189.6 2107.6L1174.8 2087.6ZM1218.03 2046.5300000000002L1232.83 2066.53L1218.03 2086.53L1203.23 2066.53ZM1246.46 2026.63L1261.26 2046.63L1246.46 2066.63L1231.66 2046.63ZM1274.89 2007.53L1289.69 2027.53L1274.89 2047.53L1260.0900000000001 2027.53ZM1303.33 1988.94L1318.1299999999999 2008.94L1303.33 2028.94L1288.53 2008.94ZM1331.76 1971.17L1346.56 1991.17L1331.76 2011.17L1316.96 1991.17ZM1360.19 1954.01L1374.99 1974.01L1360.19 1994.01L1345.39 1974.01ZM1388.62 1937.4L1403.4199999999998 1957.4L1388.62 1977.4L1373.82 1957.4ZM1417.05 1921.03L1431.85 1941.03L1417.05 1961.03L1402.25 1941.03ZM1445.48 1905.25L1460.28 1925.25L1445.48 1945.25L1430.68 1925.25ZM1473.91 1889.8L1488.71 1909.8L1473.91 1929.8L1459.1100000000001 1909.8ZM1502.35 1875.14L1517.1499999999999 1895.14L1502.35 1915.14L1487.55 1895.14ZM1530.78 1861.0L1545.58 1881.0L1530.78 1901.0L1515.98 1881.0ZM1559.21 1847.41L1574.01 1867.41L1559.21 1887.41L1544.41 1867.41ZM1587.64 1834.11L1602.44 1854.11L1587.64 1874.11L1572.8400000000001 1854.11ZM1616.07 1821.27L1630.87 1841.27L1616.07 1861.27L1601.27 1841.27ZM1644.5 1808.78L1659.3 1828.78L1644.5 1848.78L1629.7 1828.78ZM1672.93 1796.74L1687.73 1816.74L1672.93 1836.74L1658.13 1816.74ZM1701.37 1785.03L1716.1699999999998 1805.03L1701.37 1825.03L1686.57 1805.03ZM1729.8 1773.82L1744.6 1793.82L1729.8 1813.82L1715.0 1793.82ZM1758.23 1762.85L1773.03 1782.85L1758.23 1802.85L1743.43 1782.85ZM1786.66 1752.44L1801.46 1772.44L1786.66 1792.44L1771.8600000000001 1772.44ZM1815.09 1742.15L1829.8899999999999 1762.15L1815.09 1782.15L1800.29 1762.15ZM1843.52 1732.05L1858.32 1752.05L1843.52 1772.05L1828.72 1752.05ZM1871.95 1722.1L1886.75 1742.1L1871.95 1762.1L1857.15 1742.1ZM1900.39 1712.23L1915.19 1732.23L1900.39 1752.23L1885.5900000000001 1732.23ZM1928.82 1702.58L1943.62 1722.58L1928.82 1742.58L1914.02 1722.58ZM1957.25 1693.36L1972.05 1713.36L1957.25 1733.36L1942.45 1713.36ZM1985.68 1684.49L2000.48 1704.49L1985.68 1724.49L1970.88 1704.49ZM2014.11 1675.85L2028.9099999999999 1695.85L2014.11 1715.85L1999.31 1695.85ZM2042.54 1667.47L2057.34 1687.47L2042.54 1707.47L2027.74 1687.47ZM2070.97 1659.42L2085.77 1679.42L2070.97 1699.42L2056.1699999999996 1679.42ZM2099.41 1651.58L2114.21 1671.58L2099.41 1691.58L2084.6099999999997 1671.58ZM2127.84 1643.91L2142.6400000000003 1663.91L2127.84 1683.91L2113.04 1663.91ZM2156.27 1636.35L2171.07 1656.35L2156.27 1676.35L2141.47 1656.35ZM2184.7 1628.88L2199.5 1648.88L2184.7 1668.88L2169.8999999999996 1648.88Z" stroke="#000" stroke-width="1.1" fill="none" stroke-linejoin="miter"/>
<path d="M194.5 2434.5L222.9 2400.5L251.4 2367.9L279.8 2336.5L308.2 2303.0L336.7 2268.0L365.1 2229.1L393.5 2187.6L422.0 2143.7L450.4 2098.5L478.8 2054.5L507.2 2014.8L535.7 1980.3L564.1 1958.1L592.5 1943.2L621.0 1935.1L649.4 1934.9L677.8 1943.7L706.3 1968.8L734.7 2016.5L763.1 2103.9L791.6 2201.9L820.0 2278.5L848.4 2316.2L876.9 2321.7L905.3 2307.4L933.7 2283.5L962.1 2253.9L990.6 2223.1L1019.0 2195.3L1047.4 2169.2L1075.9 2142.2L1104.3 2114.2L1132.7 2087.8L1161.2 2062.2L1189.6 2038.5L1218.0 2015.3L1246.5 1993.8L1274.9 1973.5L1303.3 1954.4L1331.8 1936.2L1360.2 1918.8L1388.6 1902.0L1417.1 1885.7L1445.5 1869.7L1473.9 1854.4L1502.3 1839.6L1530.8 1825.6L1559.2 1812.3L1587.6 1799.7L1616.1 1787.8L1644.5 1776.4L1672.9 1765.7L1701.4 1755.4L1729.8 1745.4L1758.2 1735.7L1786.7 1726.1L1815.1 1716.7L1843.5 1707.4L1872.0 1698.3L1900.4 1689.5L1928.8 1680.9L1957.2 1672.7L1985.7 1664.8L2014.1 1657.2L2042.5 1649.8L2071.0 1642.6L2099.4 1635.7L2127.8 1629.0L2156.3 1622.4L2184.7 1616.1" stroke="#000" stroke-width="2.4" stroke-dasharray="13.5 8" fill="none" stroke-linejoin="round"/>
<path d="M194.5 2399.3L222.9 2365.4L251.4 2331.7L279.8 2295.1L308.2 2257.0L336.7 2218.5L365.1 2175.8L393.5 2132.6L422.0 2089.2L450.4 2046.5L478.8 2003.1L507.2 1966.0L535.7 1935.0L564.1 1910.3L592.5 1891.0L621.0 1876.6L649.4 1869.9L677.8 1867.4L706.3 1872.9L734.7 1885.9L763.1 1913.8L791.6 1970.1L820.0 2068.2L848.4 2168.2L876.9 2226.5L905.3 2244.8L933.7 2239.6L962.1 2219.5L990.6 2190.3L1019.0 2161.2L1047.4 2130.4L1075.9 2099.1L1104.3 2071.0L1132.7 2043.9L1161.2 2019.4L1189.6 1995.4L1218.0 1972.4L1246.5 1951.2L1274.9 1931.0L1303.3 1911.7L1331.8 1893.3L1360.2 1876.1L1388.6 1859.6L1417.1 1843.9L1445.5 1828.8L1473.9 1814.2L1502.3 1800.5L1530.8 1787.5L1559.2 1775.0L1587.6 1762.9L1616.1 1751.4L1644.5 1740.5L1672.9 1729.9L1701.4 1719.6L1729.8 1709.7L1758.2 1699.9L1786.7 1690.7L1815.1 1681.8L1843.5 1673.1L1872.0 1664.8L1900.4 1656.7L1928.8 1649.0L1957.2 1641.6L1985.7 1634.4L2014.1 1627.6L2042.5 1621.0L2071.0 1614.7L2099.4 1608.7L2127.8 1602.9L2156.3 1597.4L2184.7 1592.1" stroke="#000" stroke-width="1.1" fill="none" stroke-linejoin="round"/>
<path d="M177.2 2389.59H211.8L194.5 2418.89ZM205.63 2355.69H240.23000000000002L222.93 2384.99ZM234.06 2322.04H268.66L251.36 2351.3399999999997ZM262.49 2285.4H297.09000000000003L279.79 2314.7ZM290.93 2247.26H325.53000000000003L308.23 2276.56ZM319.36 2208.84H353.96000000000004L336.66 2238.14ZM347.78999999999996 2166.1400000000003H382.39L365.09 2195.44ZM376.21999999999997 2122.9500000000003H410.82L393.52 2152.25ZM404.65 2079.5H439.25L421.95 2108.7999999999997ZM433.08 2036.81H467.68L450.38 2066.11ZM461.51 1993.36H496.11L478.81 2022.6599999999999ZM489.95 1956.27H524.55L507.25 1985.57ZM518.38 1925.25H552.9799999999999L535.68 1954.55ZM546.8100000000001 1900.6399999999999H581.41L564.11 1929.9399999999998ZM575.24 1881.3H609.8399999999999L592.54 1910.6ZM603.6700000000001 1866.94H638.27L620.97 1896.24ZM632.1 1860.1599999999999H666.6999999999999L649.4 1889.4599999999998ZM660.5300000000001 1857.6499999999999H695.13L677.83 1886.9499999999998ZM688.97 1863.18H723.5699999999999L706.27 1892.48ZM717.4000000000001 1876.24H752.0L734.7 1905.54ZM745.83 1904.11H780.43L763.13 1933.4099999999999ZM774.26 1960.37H808.8599999999999L791.56 1989.6699999999998ZM802.69 2058.4500000000003H837.29L819.99 2087.75ZM831.12 2158.54H865.7199999999999L848.42 2187.8399999999997ZM859.5500000000001 2216.8100000000004H894.15L876.85 2246.11ZM887.99 2235.1400000000003H922.5899999999999L905.29 2264.44ZM916.4200000000001 2229.8700000000003H951.02L933.72 2259.17ZM944.85 2209.76H979.4499999999999L962.15 2239.06ZM973.2800000000001 2180.63H1007.88L990.58 2209.93ZM1001.71 2151.48H1036.31L1019.01 2180.7799999999997ZM1030.14 2120.71H1064.74L1047.44 2150.0099999999998ZM1058.57 2089.4300000000003H1093.1699999999998L1075.87 2118.73ZM1087.01 2061.3H1121.61L1104.31 2090.6ZM1115.44 2034.18H1150.04L1132.74 2063.48ZM1143.8700000000001 2009.69H1178.47L1161.17 2038.99ZM1172.3 1985.68H1206.8999999999999L1189.6 2014.98ZM1200.73 1962.6599999999999H1235.33L1218.03 1991.9599999999998ZM1229.16 1941.53H1263.76L1246.46 1970.83ZM1257.5900000000001 1921.33H1292.19L1274.89 1950.6299999999999ZM1286.03 1901.96H1320.6299999999999L1303.33 1931.26ZM1314.46 1883.6399999999999H1349.06L1331.76 1912.9399999999998ZM1342.89 1866.4099999999999H1377.49L1360.19 1895.7099999999998ZM1371.32 1849.9199999999998H1405.9199999999998L1388.62 1879.2199999999998ZM1399.75 1834.1699999999998H1434.35L1417.05 1863.4699999999998ZM1428.18 1819.08H1462.78L1445.48 1848.3799999999999ZM1456.6100000000001 1804.47H1491.21L1473.91 1833.77ZM1485.05 1790.83H1519.6499999999999L1502.35 1820.1299999999999ZM1513.48 1777.79H1548.08L1530.78 1807.09ZM1541.91 1765.32H1576.51L1559.21 1794.62ZM1570.3400000000001 1753.25H1604.94L1587.64 1782.55ZM1598.77 1741.71H1633.37L1616.07 1771.01ZM1627.2 1730.77H1661.8L1644.5 1760.07ZM1655.63 1720.24H1690.23L1672.93 1749.54ZM1684.07 1709.93H1718.6699999999998L1701.37 1739.23ZM1712.5 1700.02H1747.1L1729.8 1729.32ZM1740.93 1690.24H1775.53L1758.23 1719.54ZM1769.3600000000001 1681.04H1803.96L1786.66 1710.34ZM1797.79 1672.08H1832.3899999999999L1815.09 1701.3799999999999ZM1826.22 1663.43H1860.82L1843.52 1692.73ZM1854.65 1655.08H1889.25L1871.95 1684.3799999999999ZM1883.0900000000001 1647.04H1917.69L1900.39 1676.34ZM1911.52 1639.29H1946.12L1928.82 1668.59ZM1939.95 1631.8799999999999H1974.55L1957.25 1661.1799999999998ZM1968.38 1624.75H2002.98L1985.68 1654.05ZM1996.81 1617.85H2031.4099999999999L2014.11 1647.1499999999999ZM2025.24 1611.27H2059.84L2042.54 1640.57ZM2053.6699999999996 1605.0H2088.27L2070.97 1634.3ZM2082.1099999999997 1599.0H2116.71L2099.41 1628.3ZM2110.54 1593.25H2145.1400000000003L2127.84 1622.55ZM2138.97 1587.73H2173.57L2156.27 1617.03ZM2167.3999999999996 1582.4099999999999H2202.0L2184.7 1611.7099999999998Z" stroke="#000" stroke-width="1.1" fill="none" stroke-linejoin="miter"/>
<path d="M194.5 2365.4L222.9 2329.5L251.4 2294.7L279.8 2255.5L308.2 2215.3L336.7 2174.3L365.1 2129.9L393.5 2085.4L422.0 2041.2L450.4 1998.5L478.8 1957.4L507.2 1921.9L535.7 1890.9L564.1 1865.3L592.5 1846.5L621.0 1830.2L649.4 1818.1L677.8 1809.3L706.3 1804.8L734.7 1803.6L763.1 1806.8L791.6 1816.9L820.0 1839.0L848.4 1885.2L876.9 1980.6L905.3 2089.0L933.7 2144.7L962.1 2161.6L990.6 2153.7L1019.0 2133.3L1047.4 2106.4L1075.9 2078.0L1104.3 2049.4L1132.7 2021.8L1161.2 1994.1L1189.6 1967.6L1218.0 1942.8L1246.5 1920.0L1274.9 1898.8L1303.3 1879.0L1331.8 1860.6L1360.2 1843.5L1388.6 1827.3L1417.1 1811.9L1445.5 1797.2L1473.9 1783.1L1502.3 1769.4L1530.8 1756.6L1559.2 1744.5L1587.6 1732.9L1616.1 1722.1L1644.5 1711.8L1672.9 1702.0L1701.4 1692.5L1729.8 1683.7L1758.2 1675.3L1786.7 1667.2L1815.1 1659.4L1843.5 1651.9L1872.0 1644.5L1900.4 1637.4L1928.8 1630.6L1957.2 1624.2L1985.7 1618.2L2014.1 1612.7L2042.5 1607.4L2071.0 1602.4L2099.4 1597.4L2127.8 1592.6L2156.3 1587.6L2184.7 1582.6" stroke="#000" stroke-width="1.1" fill="none" stroke-linejoin="round"/>
<path d="M185.1 2348.5899999999997V2382.19L214.7 2365.39ZM213.53 2312.6699999999996V2346.27L243.13 2329.47ZM241.96 2277.93V2311.53L271.56 2294.73ZM270.39000000000004 2238.66V2272.26L299.99 2255.46ZM298.83000000000004 2198.47V2232.07L328.43 2215.27ZM327.26000000000005 2157.54V2191.1400000000003L356.86 2174.34ZM355.69 2113.0899999999997V2146.69L385.28999999999996 2129.89ZM384.12 2068.6299999999997V2102.23L413.71999999999997 2085.43ZM412.55 2024.43V2058.03L442.15 2041.23ZM440.98 1981.74V2015.34L470.58 1998.54ZM469.41 1940.55V1974.1499999999999L499.01 1957.35ZM497.85 1905.14V1938.74L527.45 1921.94ZM526.28 1874.0800000000002V1907.68L555.88 1890.88ZM554.71 1848.54V1882.1399999999999L584.3100000000001 1865.34ZM583.14 1829.71V1863.31L612.74 1846.51ZM611.57 1813.38V1846.98L641.1700000000001 1830.18ZM640.0 1801.3300000000002V1834.93L669.6 1818.13ZM668.4300000000001 1792.54V1826.1399999999999L698.0300000000001 1809.34ZM696.87 1788.02V1821.62L726.47 1804.82ZM725.3000000000001 1786.76V1820.36L754.9000000000001 1803.56ZM753.73 1790.03V1823.6299999999999L783.33 1806.83ZM782.16 1800.07V1833.6699999999998L811.76 1816.87ZM810.59 1822.17V1855.77L840.19 1838.97ZM839.02 1868.38V1901.98L868.62 1885.18ZM867.45 1963.82V1997.4199999999998L897.0500000000001 1980.62ZM895.89 2072.23V2105.8300000000004L925.49 2089.03ZM924.32 2127.9399999999996V2161.54L953.9200000000001 2144.74ZM952.75 2144.7599999999998V2178.36L982.35 2161.56ZM981.1800000000001 2136.85V2170.4500000000003L1010.7800000000001 2153.65ZM1009.61 2116.49V2150.09L1039.21 2133.29ZM1038.04 2089.62V2123.2200000000003L1067.64 2106.42ZM1066.4699999999998 2061.24V2094.84L1096.07 2078.04ZM1094.9099999999999 2032.61V2066.21L1124.51 2049.41ZM1123.34 2004.98V2038.58L1152.94 2021.78ZM1151.77 1977.27V2010.87L1181.3700000000001 1994.07ZM1180.1999999999998 1950.8V1984.3999999999999L1209.8 1967.6ZM1208.6299999999999 1926.01V1959.61L1238.23 1942.81ZM1237.06 1903.22V1936.82L1266.66 1920.02ZM1265.49 1881.97V1915.57L1295.0900000000001 1898.77ZM1293.9299999999998 1862.17V1895.77L1323.53 1878.97ZM1322.36 1843.82V1877.4199999999998L1351.96 1860.62ZM1350.79 1826.69V1860.29L1380.39 1843.49ZM1379.2199999999998 1810.49V1844.09L1408.82 1827.29ZM1407.6499999999999 1795.1000000000001V1828.7L1437.25 1811.9ZM1436.08 1780.39V1813.99L1465.68 1797.19ZM1464.51 1766.26V1799.86L1494.1100000000001 1783.06ZM1492.9499999999998 1752.57V1786.1699999999998L1522.55 1769.37ZM1521.3799999999999 1739.79V1773.3899999999999L1550.98 1756.59ZM1549.81 1727.66V1761.26L1579.41 1744.46ZM1578.24 1716.1000000000001V1749.7L1607.8400000000001 1732.9ZM1606.6699999999998 1705.27V1738.87L1636.27 1722.07ZM1635.1 1695.0V1728.6L1664.7 1711.8ZM1663.53 1685.21V1718.81L1693.13 1702.01ZM1691.9699999999998 1675.74V1709.34L1721.57 1692.54ZM1720.3999999999999 1666.93V1700.53L1750.0 1683.73ZM1748.83 1658.5V1692.1L1778.43 1675.3ZM1777.26 1650.4V1684.0L1806.8600000000001 1667.2ZM1805.6899999999998 1642.6000000000001V1676.2L1835.29 1659.4ZM1834.12 1635.05V1668.6499999999999L1863.72 1651.85ZM1862.55 1627.69V1661.29L1892.15 1644.49ZM1890.99 1620.5900000000001V1654.19L1920.5900000000001 1637.39ZM1919.4199999999998 1613.82V1647.4199999999998L1949.02 1630.62ZM1947.85 1607.41V1641.01L1977.45 1624.21ZM1976.28 1601.41V1635.01L2005.88 1618.21ZM2004.7099999999998 1595.95V1629.55L2034.31 1612.75ZM2033.1399999999999 1590.6000000000001V1624.2L2062.74 1607.4ZM2061.5699999999997 1585.56V1619.1599999999999L2091.1699999999996 1602.36ZM2090.0099999999998 1580.64V1614.24L2119.6099999999997 1597.44ZM2118.44 1575.76V1609.36L2148.04 1592.56ZM2146.87 1570.8400000000001V1604.44L2176.47 1587.64ZM2175.2999999999997 1565.8V1599.3999999999999L2204.8999999999996 1582.6Z" stroke="#000" stroke-width="1.1" fill="none" stroke-linejoin="miter"/>
<path d="M194.5 2335.0L222.9 2297.0L251.4 2258.2L279.8 2218.3L308.2 2177.4L336.7 2134.2L365.1 2090.2L393.5 2044.2L422.0 1999.0L450.4 1958.9L478.8 1918.7L507.2 1885.0L535.7 1854.3L564.1 1829.2L592.5 1809.8L621.0 1791.5L649.4 1777.2L677.8 1765.6L706.3 1754.3L734.7 1747.1L763.1 1741.8L791.6 1737.5L820.0 1735.5L848.4 1737.5L876.9 1745.0L905.3 1760.7L933.7 1802.7L962.1 1923.8L990.6 2031.6L1019.0 2069.5L1047.4 2073.8L1075.9 2060.5L1104.3 2038.6L1132.7 2011.7L1161.2 1985.2L1189.6 1958.6L1218.0 1933.0L1246.5 1909.2L1274.9 1886.7L1303.3 1865.6L1331.8 1846.1L1360.2 1828.1L1388.6 1810.9L1417.1 1794.8L1445.5 1779.8L1473.9 1765.7L1502.3 1752.4L1530.8 1739.7L1559.2 1727.7L1587.6 1716.4L1616.1 1705.9L1644.5 1695.9L1672.9 1686.3L1701.4 1677.1L1729.8 1668.6L1758.2 1660.7L1786.7 1653.0L1815.1 1645.8L1843.5 1638.8L1872.0 1632.2L1900.4 1625.9L1928.8 1620.1L1957.2 1614.6L1985.7 1609.4L2014.1 1604.8L2042.5 1600.3L2071.0 1596.2L2099.4 1592.1L2127.8 1588.1L2156.3 1584.0L2184.7 1579.9" stroke="#000" stroke-width="1.1" fill="none" stroke-linejoin="round"/>
<path d="M194.50 2319.00L197.91 2330.06L208.96 2330.06L200.01 2336.89L203.43 2347.94L194.50 2341.10L185.57 2347.94L188.99 2336.89L180.04 2330.06L191.09 2330.06ZM222.93 2280.99L226.34 2292.05L237.39 2292.05L228.44 2298.88L231.86 2309.93L222.93 2303.09L214.00 2309.93L217.42 2298.88L208.47 2292.05L219.52 2292.05ZM251.36 2242.22L254.77 2253.28L265.82 2253.28L256.87 2260.11L260.29 2271.16L251.36 2264.32L242.43 2271.16L245.85 2260.11L236.90 2253.28L247.95 2253.28ZM279.79 2202.29L283.20 2213.35L294.25 2213.35L285.30 2220.18L288.72 2231.23L279.79 2224.39L270.86 2231.23L274.28 2220.18L265.33 2213.35L276.38 2213.35ZM308.23 2161.35L311.64 2172.41L322.69 2172.41L313.74 2179.24L317.16 2190.29L308.23 2183.45L299.30 2190.29L302.72 2179.24L293.77 2172.41L304.82 2172.41ZM336.66 2118.16L340.07 2129.22L351.12 2129.22L342.17 2136.05L345.59 2147.10L336.66 2140.26L327.73 2147.10L331.15 2136.05L322.20 2129.22L333.25 2129.22ZM365.09 2074.21L368.50 2085.27L379.55 2085.27L370.60 2092.10L374.02 2103.15L365.09 2096.31L356.16 2103.15L359.58 2092.10L350.63 2085.27L361.68 2085.27ZM393.52 2028.25L396.93 2039.31L407.98 2039.31L399.03 2046.14L402.45 2057.19L393.52 2050.35L384.59 2057.19L388.01 2046.14L379.06 2039.31L390.11 2039.31ZM421.95 1983.04L425.36 1994.10L436.41 1994.10L427.46 2000.93L430.88 2011.98L421.95 2005.14L413.02 2011.98L416.44 2000.93L407.49 1994.10L418.54 1994.10ZM450.38 1942.86L453.79 1953.92L464.84 1953.92L455.89 1960.75L459.31 1971.80L450.38 1964.96L441.45 1971.80L444.87 1960.75L435.92 1953.92L446.97 1953.92ZM478.81 1902.68L482.22 1913.74L493.27 1913.74L484.32 1920.57L487.74 1931.62L478.81 1924.78L469.88 1931.62L473.30 1920.57L464.35 1913.74L475.40 1913.74ZM507.25 1868.98L510.66 1880.04L521.71 1880.04L512.76 1886.87L516.18 1897.92L507.25 1891.08L498.32 1897.92L501.74 1886.87L492.79 1880.04L503.84 1880.04ZM535.68 1838.29L539.09 1849.35L550.14 1849.35L541.19 1856.18L544.61 1867.23L535.68 1860.39L526.75 1867.23L530.17 1856.18L521.22 1849.35L532.27 1849.35ZM564.11 1813.18L567.52 1824.24L578.57 1824.24L569.62 1831.07L573.04 1842.12L564.11 1835.28L555.18 1842.12L558.60 1831.07L549.65 1824.24L560.70 1824.24ZM592.54 1793.84L595.95 1804.90L607.00 1804.90L598.05 1811.73L601.47 1822.78L592.54 1815.94L583.61 1822.78L587.03 1811.73L578.08 1804.90L589.13 1804.90ZM620.97 1775.51L624.38 1786.57L635.43 1786.57L626.48 1793.40L629.90 1804.45L620.97 1797.61L612.04 1804.45L615.46 1793.40L606.51 1786.57L617.56 1786.57ZM649.40 1761.19L652.81 1772.25L663.86 1772.25L654.91 1779.08L658.33 1790.13L649.40 1783.29L640.47 1790.13L643.89 1779.08L634.94 1772.25L645.99 1772.25ZM677.83 1749.64L681.24 1760.70L692.29 1760.70L683.34 1767.53L686.76 1778.58L677.83 1771.74L668.90 1778.58L672.32 1767.53L663.37 1760.70L674.42 1760.70ZM706.27 1738.34L709.68 1749.40L720.73 1749.40L711.78 1756.23L715.20 1767.28L706.27 1760.44L697.34 1767.28L700.76 1756.23L691.81 1749.40L702.86 1749.40ZM734.70 1731.05L738.11 1742.11L749.16 1742.11L740.21 1748.94L743.63 1759.99L734.70 1753.15L725.77 1759.99L729.19 1748.94L720.24 1742.11L731.29 1742.11ZM763.13 1725.78L766.54 1736.84L777.59 1736.84L768.64 1743.67L772.06 1754.72L763.13 1747.88L754.20 1754.72L757.62 1743.67L748.67 1736.84L759.72 1736.84ZM791.56 1721.51L794.97 1732.57L806.02 1732.57L797.07 1739.40L800.49 1750.45L791.56 1743.61L782.63 1750.45L786.05 1739.40L777.10 1732.57L788.15 1732.57ZM819.99 1719.50L823.40 1730.56L834.45 1730.56L825.50 1737.39L828.92 1748.44L819.99 1741.60L811.06 1748.44L814.48 1737.39L805.53 1730.56L816.58 1730.56ZM848.42 1721.51L851.83 1732.57L862.88 1732.57L853.93 1739.40L857.35 1750.45L848.42 1743.61L839.49 1750.45L842.91 1739.40L833.96 1732.57L845.01 1732.57ZM876.85 1729.05L880.26 1740.11L891.31 1740.11L882.36 1746.94L885.78 1757.99L876.85 1751.15L867.92 1757.99L871.34 1746.94L862.39 1740.11L873.44 1740.11ZM905.29 1744.73L908.70 1755.79L919.75 1755.79L910.80 1762.62L914.22 1773.67L905.29 1766.83L896.36 1773.67L899.78 1762.62L890.83 1755.79L901.88 1755.79ZM933.72 1786.67L937.13 1797.73L948.18 1797.73L939.23 1804.56L942.65 1815.61L933.72 1808.77L924.79 1815.61L928.21 1804.56L919.26 1797.73L930.31 1797.73ZM962.15 1907.84L965.56 1918.90L976.61 1918.90L967.66 1925.73L971.08 1936.78L962.15 1929.94L953.22 1936.78L956.64 1925.73L947.69 1918.90L958.74 1918.90ZM990.58 2015.58L993.99 2026.64L1005.04 2026.64L996.09 2033.47L999.51 2044.52L990.58 2037.68L981.65 2044.52L985.07 2033.47L976.12 2026.64L987.17 2026.64ZM1019.01 2053.50L1022.42 2064.56L1033.47 2064.56L1024.52 2071.39L1027.94 2082.44L1019.01 2075.60L1010.08 2082.44L1013.50 2071.39L1004.55 2064.56L1015.60 2064.56ZM1047.44 2057.77L1050.85 2068.83L1061.90 2068.83L1052.95 2075.66L1056.37 2086.71L1047.44 2079.87L1038.51 2086.71L1041.93 2075.66L1032.98 2068.83L1044.03 2068.83ZM1075.87 2044.46L1079.28 2055.52L1090.33 2055.52L1081.38 2062.35L1084.80 2073.40L1075.87 2066.56L1066.94 2073.40L1070.36 2062.35L1061.41 2055.52L1072.46 2055.52ZM1104.31 2022.61L1107.72 2033.67L1118.77 2033.67L1109.82 2040.50L1113.24 2051.55L1104.31 2044.71L1095.38 2051.55L1098.80 2040.50L1089.85 2033.67L1100.90 2033.67ZM1132.74 1995.74L1136.15 2006.80L1147.20 2006.80L1138.25 2013.63L1141.67 2024.68L1132.74 2017.84L1123.81 2024.68L1127.23 2013.63L1118.28 2006.80L1129.33 2006.80ZM1161.17 1969.19L1164.58 1980.25L1175.63 1980.25L1166.68 1987.08L1170.10 1998.13L1161.17 1991.29L1152.24 1998.13L1155.66 1987.08L1146.71 1980.25L1157.76 1980.25ZM1189.60 1942.62L1193.01 1953.68L1204.06 1953.68L1195.11 1960.51L1198.53 1971.56L1189.60 1964.72L1180.67 1971.56L1184.09 1960.51L1175.14 1953.68L1186.19 1953.68ZM1218.03 1916.97L1221.44 1928.03L1232.49 1928.03L1223.54 1934.86L1226.96 1945.91L1218.03 1939.07L1209.10 1945.91L1212.52 1934.86L1203.57 1928.03L1214.62 1928.03ZM1246.46 1893.25L1249.87 1904.31L1260.92 1904.31L1251.97 1911.14L1255.39 1922.19L1246.46 1915.35L1237.53 1922.19L1240.95 1911.14L1232.00 1904.31L1243.05 1904.31ZM1274.89 1870.75L1278.30 1881.81L1289.35 1881.81L1280.40 1888.64L1283.82 1899.69L1274.89 1892.85L1265.96 1899.69L1269.38 1888.64L1260.43 1881.81L1271.48 1881.81ZM1303.33 1849.60L1306.74 1860.66L1317.79 1860.66L1308.84 1867.49L1312.26 1878.54L1303.33 1871.70L1294.40 1878.54L1297.82 1867.49L1288.87 1860.66L1299.92 1860.66ZM1331.76 1830.12L1335.17 1841.18L1346.22 1841.18L1337.27 1848.01L1340.69 1859.06L1331.76 1852.22L1322.83 1859.06L1326.25 1848.01L1317.30 1841.18L1328.35 1841.18ZM1360.19 1812.05L1363.60 1823.11L1374.65 1823.11L1365.70 1829.94L1369.12 1840.99L1360.19 1834.15L1351.26 1840.99L1354.68 1829.94L1345.73 1823.11L1356.78 1823.11ZM1388.62 1794.95L1392.03 1806.01L1403.08 1806.01L1394.13 1812.84L1397.55 1823.89L1388.62 1817.05L1379.69 1823.89L1383.11 1812.84L1374.16 1806.01L1385.21 1806.01ZM1417.05 1778.82L1420.46 1789.88L1431.51 1789.88L1422.56 1796.71L1425.98 1807.76L1417.05 1800.92L1408.12 1807.76L1411.54 1796.71L1402.59 1789.88L1413.64 1789.88ZM1445.48 1763.81L1448.89 1774.87L1459.94 1774.87L1450.99 1781.70L1454.41 1792.75L1445.48 1785.91L1436.55 1792.75L1439.97 1781.70L1431.02 1774.87L1442.07 1774.87ZM1473.91 1749.71L1477.32 1760.77L1488.37 1760.77L1479.42 1767.60L1482.84 1778.65L1473.91 1771.81L1464.98 1778.65L1468.40 1767.60L1459.45 1760.77L1470.50 1760.77ZM1502.35 1736.42L1505.76 1747.48L1516.81 1747.48L1507.86 1754.31L1511.28 1765.36L1502.35 1758.52L1493.42 1765.36L1496.84 1754.31L1487.89 1747.48L1498.94 1747.48ZM1530.78 1723.69L1534.19 1734.75L1545.24 1734.75L1536.29 1741.58L1539.71 1752.63L1530.78 1745.79L1521.85 1752.63L1525.27 1741.58L1516.32 1734.75L1527.37 1734.75ZM1559.21 1711.69L1562.62 1722.75L1573.67 1722.75L1564.72 1729.58L1568.14 1740.63L1559.21 1733.79L1550.28 1740.63L1553.70 1729.58L1544.75 1722.75L1555.80 1722.75ZM1587.64 1700.42L1591.05 1711.48L1602.10 1711.48L1593.15 1718.31L1596.57 1729.36L1587.64 1722.52L1578.71 1729.36L1582.13 1718.31L1573.18 1711.48L1584.23 1711.48ZM1616.07 1689.88L1619.48 1700.94L1630.53 1700.94L1621.58 1707.77L1625.00 1718.82L1616.07 1711.98L1607.14 1718.82L1610.56 1707.77L1601.61 1700.94L1612.66 1700.94ZM1644.50 1679.90L1647.91 1690.96L1658.96 1690.96L1650.01 1697.79L1653.43 1708.84L1644.50 1702.00L1635.57 1708.84L1638.99 1697.79L1630.04 1690.96L1641.09 1690.96ZM1672.93 1670.29L1676.34 1681.35L1687.39 1681.35L1678.44 1688.18L1681.86 1699.23L1672.93 1692.39L1664.00 1699.23L1667.42 1688.18L1658.47 1681.35L1669.52 1681.35ZM1701.37 1661.08L1704.78 1672.14L1715.83 1672.14L1706.88 1678.97L1710.30 1690.02L1701.37 1683.18L1692.44 1690.02L1695.86 1678.97L1686.91 1672.14L1697.96 1672.14ZM1729.80 1652.65L1733.21 1663.71L1744.26 1663.71L1735.31 1670.54L1738.73 1681.59L1729.80 1674.75L1720.87 1681.59L1724.29 1670.54L1715.34 1663.71L1726.39 1663.71ZM1758.23 1644.66L1761.64 1655.72L1772.69 1655.72L1763.74 1662.55L1767.16 1673.60L1758.23 1666.76L1749.30 1673.60L1752.72 1662.55L1743.77 1655.72L1754.82 1655.72ZM1786.66 1637.02L1790.07 1648.08L1801.12 1648.08L1792.17 1654.91L1795.59 1665.96L1786.66 1659.12L1777.73 1665.96L1781.15 1654.91L1772.20 1648.08L1783.25 1648.08ZM1815.09 1629.75L1818.50 1640.81L1829.55 1640.81L1820.60 1647.64L1824.02 1658.69L1815.09 1651.85L1806.16 1658.69L1809.58 1647.64L1800.63 1640.81L1811.68 1640.81ZM1843.52 1622.79L1846.93 1633.85L1857.98 1633.85L1849.03 1640.68L1852.45 1651.73L1843.52 1644.89L1834.59 1651.73L1838.01 1640.68L1829.06 1633.85L1840.11 1633.85ZM1871.95 1616.19L1875.36 1627.25L1886.41 1627.25L1877.46 1634.08L1880.88 1645.13L1871.95 1638.29L1863.02 1645.13L1866.44 1634.08L1857.49 1627.25L1868.54 1627.25ZM1900.39 1609.92L1903.80 1620.98L1914.85 1620.98L1905.90 1627.81L1909.32 1638.86L1900.39 1632.02L1891.46 1638.86L1894.88 1627.81L1885.93 1620.98L1896.98 1620.98ZM1928.82 1604.11L1932.23 1615.17L1943.28 1615.17L1934.33 1622.00L1937.75 1633.05L1928.82 1626.21L1919.89 1633.05L1923.31 1622.00L1914.36 1615.17L1925.41 1615.17ZM1957.25 1598.59L1960.66 1609.65L1971.71 1609.65L1962.76 1616.48L1966.18 1627.53L1957.25 1620.69L1948.32 1627.53L1951.74 1616.48L1942.79 1609.65L1953.84 1609.65ZM1985.68 1593.45L1989.09 1604.51L2000.14 1604.51L1991.19 1611.34L1994.61 1622.39L1985.68 1615.55L1976.75 1622.39L1980.17 1611.34L1971.22 1604.51L1982.27 1604.51ZM2014.11 1588.83L2017.52 1599.89L2028.57 1599.89L2019.62 1606.72L2023.04 1617.77L2014.11 1610.93L2005.18 1617.77L2008.60 1606.72L1999.65 1599.89L2010.70 1599.89ZM2042.54 1584.35L2045.95 1595.41L2057.00 1595.41L2048.05 1602.24L2051.47 1613.29L2042.54 1606.45L2033.61 1613.29L2037.03 1602.24L2028.08 1595.41L2039.13 1595.41ZM2070.97 1580.17L2074.38 1591.23L2085.43 1591.23L2076.48 1598.06L2079.90 1609.11L2070.97 1602.27L2062.04 1609.11L2065.46 1598.06L2056.51 1591.23L2067.56 1591.23ZM2099.41 1576.12L2102.82 1587.18L2113.87 1587.18L2104.92 1594.01L2108.34 1605.06L2099.41 1598.22L2090.48 1605.06L2093.90 1594.01L2084.95 1587.18L2096.00 1587.18ZM2127.84 1572.10L2131.25 1583.16L2142.30 1583.16L2133.35 1589.99L2136.77 1601.04L2127.84 1594.20L2118.91 1601.04L2122.33 1589.99L2113.38 1583.16L2124.43 1583.16ZM2156.27 1568.05L2159.68 1579.11L2170.73 1579.11L2161.78 1585.94L2165.20 1596.99L2156.27 1590.15L2147.34 1596.99L2150.76 1585.94L2141.81 1579.11L2152.86 1579.11ZM2184.70 1563.87L2188.11 1574.93L2199.16 1574.93L2190.21 1581.76L2193.63 1592.81L2184.70 1585.97L2175.77 1592.81L2179.19 1581.76L2170.24 1574.93L2181.29 1574.93Z" stroke="#000" stroke-width="1.1" fill="none" stroke-linejoin="miter"/>
<path d="M478.81 1552.0v20M478.81 2683.7v-20M763.13 1552.0v20M763.13 2683.7v-20M1047.44 1552.0v20M1047.44 2683.7v-20M1331.76 1552.0v20M1331.76 2683.7v-20M1616.07 1552.0v20M1616.07 2683.7v-20M1900.39 1552.0v20M1900.39 2683.7v-20" stroke="#262626" stroke-width="2.4" fill="none"/>
<path d="M194.5 2557.96h20M2184.7 2557.96h-20M194.5 2432.21h20M2184.7 2432.21h-20M194.5 2306.47h20M2184.7 2306.47h-20M194.5 2180.72h20M2184.7 2180.72h-20M194.5 2054.98h20M2184.7 2054.98h-20M194.5 1929.23h20M2184.7 1929.23h-20M194.5 1803.49h20M2184.7 1803.49h-20M194.5 1677.74h20M2184.7 1677.74h-20" stroke="#262626" stroke-width="1.8" fill="none"/>
<path d="M193.1 1552.0H2186.1M193.1 2683.7H2186.1" stroke="#262626" stroke-width="2.1" fill="none"/>
<path d="M194.5 1551.0V2684.7M2184.7 1551.0V2684.7" stroke="#262626" stroke-width="3" fill="none"/>
<g class="tk" text-anchor="middle">
<text x="194.8" y="2746.5">1000</text>
<text x="479.1" y="2746.5">1500</text>
<text x="763.4" y="2746.5">2000</text>
<text x="1047.7" y="2746.5">2500</text>
<text x="1332.1" y="2746.5">3000</text>
<text x="1616.4" y="2746.5">3500</text>
<text x="1900.7" y="2746.5">4000</text>
<text x="2185.0" y="2746.5">4500</text>
</g>
<g class="tk" text-anchor="end">
<text x="177.6" y="2700.3">0</text>
<text x="177.6" y="2574.6">0.5</text>
<text x="177.6" y="2448.8">1</text>
<text x="177.6" y="2323.1">1.5</text>
<text x="177.6" y="2197.3">2</text>
<text x="177.6" y="2071.6">2.5</text>
<text x="177.6" y="1945.8">3</text>
<text x="177.6" y="1820.1">3.5</text>
<text x="177.6" y="1694.3">4</text>
<text x="177.6" y="1568.6">4.5</text>
</g>
<g class="xl"><text class="gi" stroke-width="2.2" transform="matrix(0.5460 0 0 0.5382 1061.83 2809.06)">ω</text><text class="gs" transform="matrix(0.3688 0 0 0.4000 1097.77 2816.70)">1</text><text class="gs" stroke="#fff" stroke-width="2.2" transform="matrix(0.8036 0 0 0.8328 1122.00 2821.67)">/</text><text class="gs" stroke-width="0.4" transform="matrix(0.5608 0 0 0.6166 1148.18 2809.40)">(</text><text class="gs" transform="matrix(0.6525 0 0 0.5376 1167.00 2809.10)">r</text><text class="gs" transform="matrix(0.6076 0 0 0.5521 1187.67 2809.15)">a</text><text class="gs" transform="matrix(0.6718 0 0 0.5702 1212.25 2809.13)">d</text><text class="gs" stroke="#fff" stroke-width="2.2" transform="matrix(0.8036 0 0 0.8328 1248.20 2821.67)">/</text><text class="gs" transform="matrix(0.6400 0 0 0.5521 1271.14 2809.15)">s</text><text class="gs" stroke-width="0.4" transform="matrix(0.5592 0 0 0.6166 1295.08 2809.40)">)</text></g>
<g class="yl"><text class="gs" transform="matrix(0 -0.5645 0.5591 0 85.10 2242.64)">1</text><text class="gi" transform="matrix(0 -0.6963 0.5817 0 85.10 2212.44)">X</text><text class="gs" stroke="#fff" stroke-width="2.2" transform="matrix(0 -0.8000 0.8328 0 97.97 2167.70)">/</text><text class="gs" transform="matrix(0 -0.5759 0.5591 0 85.10 2144.84)">1</text><text class="gs" transform="matrix(0 -0.5718 0.5822 0 86.52 2116.84)">0</text><text class="gs" stroke-width="0" transform="matrix(0 -0.5247 0.6000 0 72.75 2089.42)">−</text><text class="gs" transform="matrix(0 -0.3826 0.4150 0 63.88 2060.70)">5</text><text class="gs" transform="matrix(0 -0.5980 0.5340 0 84.90 2037.90)">m</text></g>
<rect x="2264.4" y="1551.3" width="187.4" height="651.4" fill="#fff" stroke="#262626" stroke-width="1.1"/>
<path d="M2271 1586.9H2327" stroke="#000" stroke-width="1.1" fill="none"/>
<path d="M2283 1586.9H2315M2299 1570.9V1602.9" stroke="#000" stroke-width="1.1" fill="none"/>
<text class="lg" transform="translate(2331.6,1594.4) scale(0.966,1)">e<tspan class="lsub" dy="18">2</tspan><tspan dy="-18">=0.1</tspan></text>
<path d="M2271 1651.4H2327" stroke="#000" stroke-width="1.1" fill="none"/>
<path d="M2284.6 1651.43a14.4 14.4 0 1 0 28.8 0a14.4 14.4 0 1 0 -28.8 0Z" stroke="#000" stroke-width="1.1" fill="none"/>
<text class="lg" transform="translate(2331.6,1658.9) scale(0.966,1)">e<tspan class="lsub" dy="18">2</tspan><tspan dy="-18">=0.2</tspan></text>
<path d="M2271 1716.0H2327" stroke="#000" stroke-width="1.7" stroke-dasharray="13.5 3.4 2.3 4.6 13.2 3.9 2.3 3.4 20" fill="none"/>
<text class="lg" transform="translate(2331.6,1723.5) scale(0.966,1)">e<tspan class="lsub" dy="18">2</tspan><tspan dy="-18">=0.3</tspan></text>
<path d="M2271 1780.5H2327" stroke="#000" stroke-width="1.1" fill="none"/>
<path d="M2287.7 1769.19L2310.3 1791.79M2287.7 1791.79L2310.3 1769.19" stroke="#000" stroke-width="1.1" fill="none"/>
<text class="lg" transform="translate(2331.6,1788.0) scale(0.966,1)">e<tspan class="lsub" dy="18">2</tspan><tspan dy="-18">=0.4</tspan></text>
<path d="M2271 1845.0H2327" stroke="#000" stroke-width="1.1" fill="none"/>
<path d="M2287.4 1833.42H2310.6V1856.62H2287.4Z" stroke="#000" stroke-width="1.1" fill="none"/>
<text class="lg" transform="translate(2331.6,1852.5) scale(0.966,1)">e<tspan class="lsub" dy="18">2</tspan><tspan dy="-18">=0.5</tspan></text>
<path d="M2271 1909.5H2327" stroke="#000" stroke-width="1.1" fill="none"/>
<path d="M2299 1889.55L2313.8 1909.55L2299 1929.55L2284.2 1909.55Z" stroke="#000" stroke-width="1.1" fill="none"/>
<text class="lg" transform="translate(2331.6,1917.0) scale(0.966,1)">e<tspan class="lsub" dy="18">2</tspan><tspan dy="-18">=0.6</tspan></text>
<path d="M2271 1974.1H2327" stroke="#000" stroke-width="1.7" stroke-dasharray="13.2 11 13.8 9 20" fill="none"/>
<text class="lg" transform="translate(2331.6,1981.6) scale(0.966,1)">e<tspan class="lsub" dy="18">2</tspan><tspan dy="-18">=0.7</tspan></text>
<path d="M2271 2038.6H2327" stroke="#000" stroke-width="1.1" fill="none"/>
<path d="M2281.7 2028.9099999999999H2316.3L2299 2058.21Z" stroke="#000" stroke-width="1.1" fill="none"/>
<text class="lg" transform="translate(2331.6,2046.1) scale(0.966,1)">e<tspan class="lsub" dy="18">2</tspan><tspan dy="-18">=0.8</tspan></text>
<path d="M2271 2103.1H2327" stroke="#000" stroke-width="1.1" fill="none"/>
<path d="M2289.6 2086.3399999999997V2119.94L2319.2 2103.14Z" stroke="#000" stroke-width="1.1" fill="none"/>
<text class="lg" transform="translate(2331.6,2110.6) scale(0.966,1)">e<tspan class="lsub" dy="18">2</tspan><tspan dy="-18">=0.9</tspan></text>
<path d="M2271 2167.7H2327" stroke="#000" stroke-width="1.1" fill="none"/>
<path d="M2299.00 2151.67L2302.41 2162.73L2313.46 2162.73L2304.51 2169.56L2307.93 2180.61L2299.00 2173.77L2290.07 2180.61L2293.49 2169.56L2284.54 2162.73L2295.59 2162.73Z" stroke="#000" stroke-width="1.1" fill="none"/>
<text class="lg" transform="translate(2331.6,2175.2) scale(0.966,1)">e<tspan class="lsub" dy="18">2</tspan><tspan dy="-18">=1.0</tspan></text>
<g class="cap"><text class="gs" stroke-width="0.4" transform="matrix(0.7843 0 0 0.8608 1226.47 2925.61)">(</text><text class="gb" transform="matrix(0.9214 0 0 0.8950 1252.85 2926.20)">b</text><text class="gs" stroke-width="0.4" transform="matrix(0.7767 0 0 0.8608 1304.58 2925.61)">)</text></g>
</g>
</svg>
</body></html>
